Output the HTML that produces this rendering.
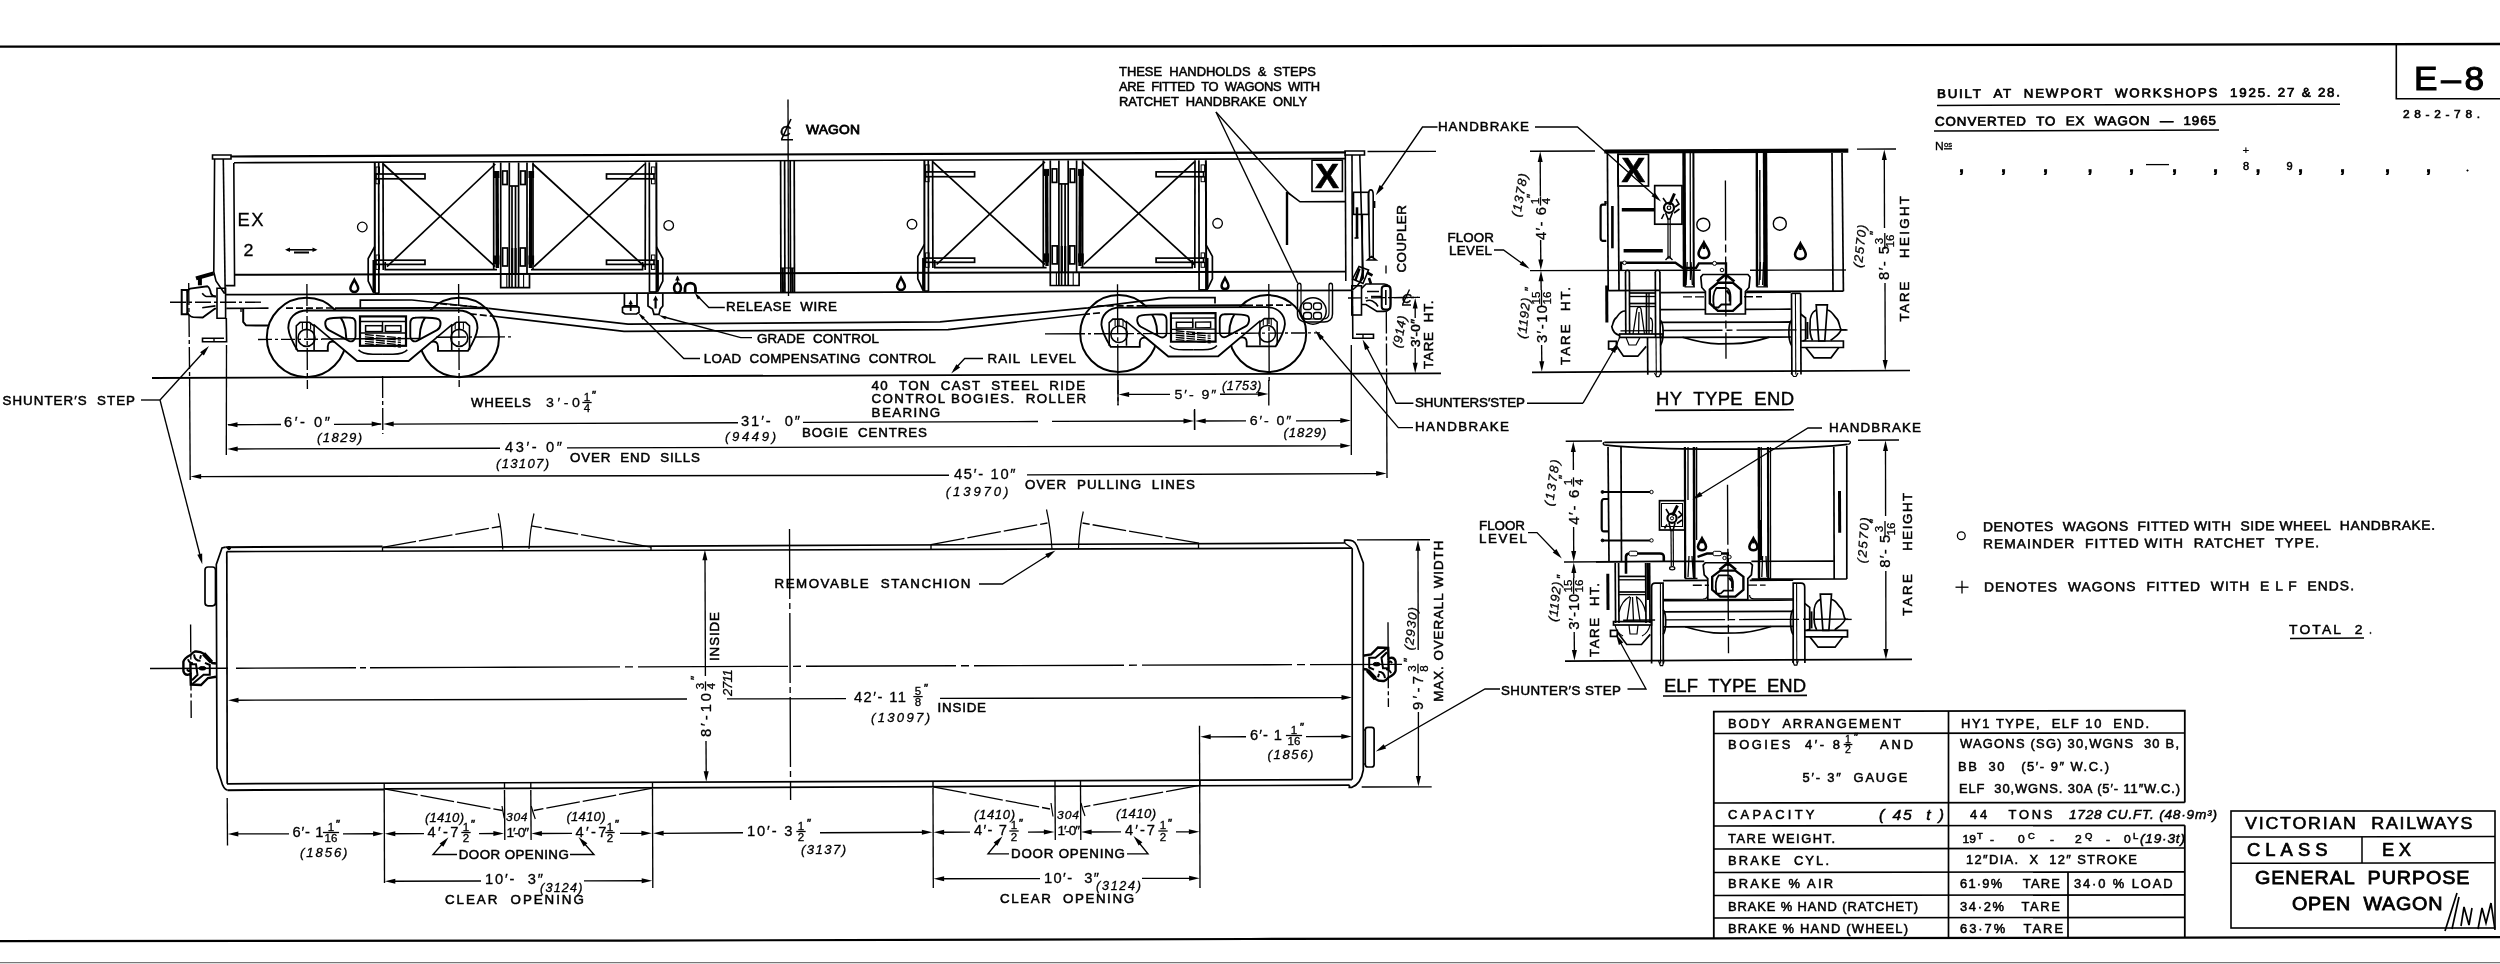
<!DOCTYPE html>
<html><head><meta charset="utf-8"><title>E-8 EX General Purpose Open Wagon</title>
<style>
html,body{margin:0;padding:0;background:#fff;}
body{width:2500px;height:964px;overflow:hidden;}
svg{display:block;filter:grayscale(1);font-family:"Liberation Sans",sans-serif;fill:#000;}
svg text{fill:#000;}
</style></head><body>
<svg width="2500" height="964" viewBox="0 0 2500 964">
<rect x="0" y="0" width="2500" height="964" fill="#fff"/>
<line x1="0" y1="46.6" x2="1250" y2="46.4" stroke="#000" stroke-width="2.4"/>
<line x1="1250" y1="46.4" x2="2500" y2="44" stroke="#000" stroke-width="2.4"/>
<polyline points="0,941.2 625,940.6 1250,939 1715,938.3 2185,937.6 2500,937.2" fill="none" stroke="#000" stroke-width="2.2"/>
<line x1="0" y1="962.6" x2="2500" y2="962.6" stroke="#777" stroke-width="1.4"/>
<polyline points="2396.3,45 2396.3,98.8 2500,98.8" fill="none" stroke="#000" stroke-width="1.6"/>
<text font-size="33.5" textLength="66.67" lengthAdjust="spacing" stroke="#000" stroke-width="1.1" transform="translate(2414 90.2) scale(1.05 1)">E–8</text>
<text font-size="11.3" textLength="73.33" lengthAdjust="spacing" stroke="#000" stroke-width="0.6" transform="translate(2403 117.6) scale(1.05 1)">28-2-78.</text>
<text font-size="12.7" textLength="383.81" lengthAdjust="spacing" stroke="#000" stroke-width="0.7" transform="translate(1937 98) rotate(-0.2) scale(1.05 1)">BUILT  AT  NEWPORT  WORKSHOPS  1925. 27 &amp; 28.</text>
<line x1="1937" y1="105.4" x2="2340" y2="104.2" stroke="#000" stroke-width="1.5"/>
<text font-size="12.7" textLength="267.62" lengthAdjust="spacing" stroke="#000" stroke-width="0.7" transform="translate(1935 125.8) rotate(-0.2) scale(1.05 1)">CONVERTED  TO  EX  WAGON  —  1965</text>
<line x1="1934" y1="131" x2="2219" y2="130" stroke="#000" stroke-width="1.5"/>
<text font-size="11.5" stroke="#000" stroke-width="0.3" transform="translate(1935 149.5) scale(1.05 1)">N</text>
<text font-size="7.5" stroke="#000" stroke-width="0.3" transform="translate(1944 146.5) scale(1.05 1)">os</text>
<line x1="1944" y1="148.8" x2="1952" y2="148.8" stroke="#000" stroke-width="1.35"/>
<text font-size="14" font-weight="bold" stroke="#000" stroke-width="0.9" transform="translate(1959.5 172) scale(1.05 1)">,</text>
<text font-size="14" font-weight="bold" stroke="#000" stroke-width="0.9" transform="translate(2001.5 172) scale(1.05 1)">,</text>
<text font-size="14" font-weight="bold" stroke="#000" stroke-width="0.9" transform="translate(2043.5 172) scale(1.05 1)">,</text>
<text font-size="14" font-weight="bold" stroke="#000" stroke-width="0.9" transform="translate(2088 172) scale(1.05 1)">,</text>
<text font-size="14" font-weight="bold" stroke="#000" stroke-width="0.9" transform="translate(2129.5 172) scale(1.05 1)">,</text>
<text font-size="14" font-weight="bold" stroke="#000" stroke-width="0.9" transform="translate(2172.5 172) scale(1.05 1)">,</text>
<text font-size="14" font-weight="bold" stroke="#000" stroke-width="0.9" transform="translate(2213.5 172) scale(1.05 1)">,</text>
<text font-size="14" font-weight="bold" stroke="#000" stroke-width="0.9" transform="translate(2256 172) scale(1.05 1)">,</text>
<text font-size="14" font-weight="bold" stroke="#000" stroke-width="0.9" transform="translate(2298.5 172) scale(1.05 1)">,</text>
<text font-size="14" font-weight="bold" stroke="#000" stroke-width="0.9" transform="translate(2340.5 172) scale(1.05 1)">,</text>
<text font-size="14" font-weight="bold" stroke="#000" stroke-width="0.9" transform="translate(2385.5 172) scale(1.05 1)">,</text>
<text font-size="14" font-weight="bold" stroke="#000" stroke-width="0.9" transform="translate(2426.5 172) scale(1.05 1)">,</text>
<circle cx="2467.5" cy="170.5" r="0.8" fill="#000" stroke="#000" stroke-width="0.5"/>
<line x1="2146" y1="164.6" x2="2169" y2="164.6" stroke="#000" stroke-width="1.3"/>
<text font-size="11" text-anchor="middle" stroke="#000" stroke-width="0.2" transform="translate(2246 154.3) scale(1.05 1)">+</text>
<text font-size="10.5" text-anchor="middle" stroke="#000" stroke-width="0.5" transform="translate(2246 169.6) scale(1.05 1)">8</text>
<text font-size="10.5" text-anchor="middle" stroke="#000" stroke-width="0.5" transform="translate(2289.5 169.6) scale(1.05 1)">9</text>
<circle cx="1961.3" cy="535.8" r="3.9" fill="none" stroke="#000" stroke-width="1.3"/>
<text font-size="13.2" textLength="430.48" lengthAdjust="spacing" stroke="#000" stroke-width="0.5" transform="translate(1983 531.3) rotate(-0.2) scale(1.05 1)">DENOTES  WAGONS  FITTED WITH  SIDE WHEEL  HANDBRAKE.</text>
<text font-size="13.2" textLength="320" lengthAdjust="spacing" stroke="#000" stroke-width="0.5" transform="translate(1983 548.3) rotate(-0.2) scale(1.05 1)">REMAINDER  FITTED WITH  RATCHET  TYPE.</text>
<line x1="1955.5" y1="587.2" x2="1968.5" y2="587.2" stroke="#000" stroke-width="1.3"/>
<line x1="1962" y1="580.8" x2="1962" y2="593.4" stroke="#000" stroke-width="1.3"/>
<text font-size="13.2" textLength="352.38" lengthAdjust="spacing" stroke="#000" stroke-width="0.5" transform="translate(1984 591.6) rotate(-0.2) scale(1.05 1)">DENOTES  WAGONS  FITTED  WITH  E L F  ENDS.</text>
<text font-size="13.2" textLength="70" lengthAdjust="spacing" stroke="#000" stroke-width="0.5" transform="translate(2289 633.8) scale(1.05 1)">TOTAL  2</text>
<line x1="2290" y1="638.4" x2="2364" y2="638" stroke="#000" stroke-width="1.5"/>
<circle cx="2370.5" cy="633" r="0.7" fill="#000" stroke="#000" stroke-width="0.5"/>
<polyline points="1713.8,938.4 1713.8,711.6 2184.8,710.6 2184.8,802.4" fill="none" stroke="#000" stroke-width="1.8"/>
<line x1="2184.8" y1="825.3" x2="2184.8" y2="938" stroke="#000" stroke-width="1.8"/>
<line x1="1713.8" y1="733.5" x2="2184.8" y2="733" stroke="#000" stroke-width="1.7"/>
<line x1="1713.8" y1="803" x2="2184.8" y2="802.4" stroke="#000" stroke-width="1.7"/>
<line x1="1713.8" y1="826" x2="2184.8" y2="825.3" stroke="#000" stroke-width="1.7"/>
<line x1="1713.8" y1="849" x2="2184.8" y2="848" stroke="#000" stroke-width="1.7"/>
<line x1="1713.8" y1="872.5" x2="2184.8" y2="871.8" stroke="#000" stroke-width="1.7"/>
<line x1="1713.8" y1="895.5" x2="2184.8" y2="894.8" stroke="#000" stroke-width="1.7"/>
<line x1="1713.8" y1="918" x2="2184.8" y2="917.3" stroke="#000" stroke-width="1.7"/>
<line x1="1948.5" y1="711" x2="1948.5" y2="938" stroke="#000" stroke-width="1.7"/>
<line x1="2068" y1="872" x2="2068" y2="938" stroke="#000" stroke-width="1.7"/>
<text font-size="12.3" textLength="164.76" lengthAdjust="spacing" stroke="#000" stroke-width="0.5" transform="translate(1728 728) scale(1.05 1)">BODY  ARRANGEMENT</text>
<text font-size="12.3" textLength="106.67" lengthAdjust="spacing" stroke="#000" stroke-width="0.5" transform="translate(1728 749) scale(1.05 1)">BOGIES  4′- 8</text>
<text font-size="10" text-anchor="middle" stroke="#000" stroke-width="0.3" transform="translate(1848 742.9) scale(1.05 1)">1</text>
<line x1="1843.65" y1="744.5" x2="1852.35" y2="744.5" stroke="#000" stroke-width="1.3"/>
<text font-size="10" text-anchor="middle" stroke="#000" stroke-width="0.3" transform="translate(1848 753.3) scale(1.05 1)">2</text>
<text font-size="11" stroke="#000" stroke-width="0.5" transform="translate(1854 741) scale(1.05 1)">″</text>
<text font-size="12.3" textLength="31.43" lengthAdjust="spacing" stroke="#000" stroke-width="0.5" transform="translate(1880 749) scale(1.05 1)">AND</text>
<text font-size="12.3" textLength="100" lengthAdjust="spacing" stroke="#000" stroke-width="0.5" transform="translate(1802.5 782) scale(1.05 1)">5′- 3″  GAUGE</text>
<text font-size="12.3" textLength="82.38" lengthAdjust="spacing" stroke="#000" stroke-width="0.5" transform="translate(1728 819) scale(1.05 1)">CAPACITY</text>
<text font-size="15" textLength="61.9" lengthAdjust="spacing" font-style="italic" stroke="#000" stroke-width="0.5" transform="translate(1879 819.5) scale(1.05 1)">( 45  t )</text>
<text font-size="12.3" textLength="101.9" lengthAdjust="spacing" stroke="#000" stroke-width="0.5" transform="translate(1728 843) scale(1.05 1)">TARE WEIGHT.</text>
<text font-size="12.3" textLength="96.19" lengthAdjust="spacing" stroke="#000" stroke-width="0.5" transform="translate(1728 865) scale(1.05 1)">BRAKE  CYL.</text>
<text font-size="12.3" textLength="100" lengthAdjust="spacing" stroke="#000" stroke-width="0.5" transform="translate(1728 888) scale(1.05 1)">BRAKE % AIR</text>
<text font-size="12.3" textLength="180.95" lengthAdjust="spacing" stroke="#000" stroke-width="0.5" transform="translate(1728 911) scale(1.05 1)">BRAKE % HAND (RATCHET)</text>
<text font-size="12.3" textLength="171.43" lengthAdjust="spacing" stroke="#000" stroke-width="0.5" transform="translate(1728 932.5) scale(1.05 1)">BRAKE % HAND (WHEEL)</text>
<text font-size="12.3" textLength="179.05" lengthAdjust="spacing" stroke="#000" stroke-width="0.5" transform="translate(1961 728) scale(1.05 1)">HY1 TYPE,  ELF 10  END.</text>
<text font-size="12.3" textLength="208.57" lengthAdjust="spacing" stroke="#000" stroke-width="0.5" transform="translate(1960 748) scale(1.05 1)">WAGONS (SG) 30,WGNS  30 B,</text>
<text font-size="12.3" textLength="143.81" lengthAdjust="spacing" stroke="#000" stroke-width="0.5" transform="translate(1958 770.5) scale(1.05 1)">BB  30   (5′- 9″ W.C.)</text>
<text font-size="12.3" textLength="210.48" lengthAdjust="spacing" stroke="#000" stroke-width="0.5" transform="translate(1959 793) scale(1.05 1)">ELF  30,WGNS. 30A (5′- 11″W.C.)</text>
<text font-size="12.3" textLength="78.57" lengthAdjust="spacing" stroke="#000" stroke-width="0.5" transform="translate(1970 819) scale(1.05 1)">44   TONS</text>
<text font-size="13" textLength="140.95" lengthAdjust="spacing" font-style="italic" stroke="#000" stroke-width="0.5" transform="translate(2069 819) scale(1.05 1)">1728 CU.FT. (48·9m³)</text>
<text font-size="11.5" stroke="#000" stroke-width="0.5" transform="translate(1962.5 842.5) scale(1.05 1)">19</text>
<text font-size="9" stroke="#000" stroke-width="0.5" transform="translate(1977 838.5) scale(1.05 1)">T</text>
<text font-size="11.5" stroke="#000" stroke-width="0.5" transform="translate(1990 842.5) scale(1.05 1)">-</text>
<text font-size="11.5" stroke="#000" stroke-width="0.5" transform="translate(2018 842.5) scale(1.05 1)">0</text>
<text font-size="9" stroke="#000" stroke-width="0.5" transform="translate(2028 838.5) scale(1.05 1)">C</text>
<text font-size="11.5" stroke="#000" stroke-width="0.5" transform="translate(2050 842.5) scale(1.05 1)">-</text>
<text font-size="11.5" stroke="#000" stroke-width="0.5" transform="translate(2075 842.5) scale(1.05 1)">2</text>
<text font-size="9" stroke="#000" stroke-width="0.5" transform="translate(2085 838.5) scale(1.05 1)">Q</text>
<text font-size="11.5" stroke="#000" stroke-width="0.5" transform="translate(2106 842.5) scale(1.05 1)">-</text>
<text font-size="11.5" stroke="#000" stroke-width="0.5" transform="translate(2124 842.5) scale(1.05 1)">0</text>
<text font-size="9" stroke="#000" stroke-width="0.5" transform="translate(2133 838.5) scale(1.05 1)">L</text>
<text font-size="13" textLength="42.86" lengthAdjust="spacing" font-style="italic" stroke="#000" stroke-width="0.5" transform="translate(2140 842.5) scale(1.05 1)">(19·3t)</text>
<text font-size="12.3" textLength="162.86" lengthAdjust="spacing" stroke="#000" stroke-width="0.5" transform="translate(1966 864) scale(1.05 1)">12″DIA.  X  12″ STROKE</text>
<text font-size="12.3" textLength="95.24" lengthAdjust="spacing" stroke="#000" stroke-width="0.5" transform="translate(1960 887.5) scale(1.05 1)">61·9%    TARE</text>
<text font-size="12.3" textLength="93.81" lengthAdjust="spacing" stroke="#000" stroke-width="0.5" transform="translate(2074 887.5) scale(1.05 1)">34·0 % LOAD</text>
<text font-size="12.3" textLength="95.24" lengthAdjust="spacing" stroke="#000" stroke-width="0.5" transform="translate(1960 910.5) scale(1.05 1)">34·2%   TARE</text>
<text font-size="12.3" textLength="98.1" lengthAdjust="spacing" stroke="#000" stroke-width="0.5" transform="translate(1960 932.5) scale(1.05 1)">63·7%   TARE</text>
<rect x="2231" y="811" width="264" height="117" fill="none" stroke="#000" stroke-width="1.6"/>
<line x1="2231" y1="837" x2="2495" y2="836.5" stroke="#000" stroke-width="1.5"/>
<line x1="2231" y1="863.3" x2="2495" y2="862.8" stroke="#000" stroke-width="1.5"/>
<line x1="2362" y1="837" x2="2362" y2="863" stroke="#000" stroke-width="1.5"/>
<text font-size="17" textLength="216.67" lengthAdjust="spacing" stroke="#000" stroke-width="0.6" transform="translate(2245 828.5) scale(1.05 1)">VICTORIAN  RAILWAYS</text>
<text font-size="17.5" textLength="76.67" lengthAdjust="spacing" stroke="#000" stroke-width="0.7" transform="translate(2247 856) scale(1.05 1)">CLASS</text>
<text font-size="17.5" textLength="27.62" lengthAdjust="spacing" stroke="#000" stroke-width="0.6" transform="translate(2382 856) scale(1.05 1)">EX</text>
<text font-size="18.8" textLength="204.29" lengthAdjust="spacing" stroke="#000" stroke-width="0.8" transform="translate(2255 884.3) scale(1.05 1)">GENERAL  PURPOSE</text>
<text font-size="18.8" textLength="143.33" lengthAdjust="spacing" stroke="#000" stroke-width="0.8" transform="translate(2292 910) scale(1.05 1)">OPEN  WAGON</text>
<path d="M2445,931 L2457,893 M2452,929 L2459,897 M2461,926 L2464,907 L2469,925 L2472,908 M2478,929 L2482,908 L2486,923 L2491,903 L2495,930" fill="none" stroke="#000" stroke-width="1.7"/>
<line x1="231" y1="156.5" x2="1346" y2="152.3" stroke="#000" stroke-width="2.2"/>
<line x1="234" y1="162.7" x2="1346" y2="158.6" stroke="#000" stroke-width="1.6"/>
<line x1="235" y1="274.8" x2="1345" y2="271.6" stroke="#000" stroke-width="1.9"/>
<line x1="226" y1="294.7" x2="1352" y2="290.4" stroke="#000" stroke-width="1.8"/>
<line x1="152" y1="378" x2="1441" y2="373.3" stroke="#000" stroke-width="1.8"/>
<polygon points="212.5,155 231,155 231,159 212.5,159" fill="none" stroke="#000" stroke-width="1.6"/>
<polyline points="214.6,159 213.8,272 216,281 224.5,293.5" fill="none" stroke="#000" stroke-width="1.6"/>
<line x1="223.3" y1="159" x2="225.2" y2="294" stroke="#000" stroke-width="1.6"/>
<polyline points="233.8,163 234.6,285.6 225.4,285.6" fill="none" stroke="#000" stroke-width="1.6"/>
<polygon points="217,288.2 225.6,288.2 225.6,318.3 217,318.3" fill="none" stroke="#000" stroke-width="1.6"/>
<polyline points="226.3,318 226.6,341.8 202.5,341.8 202.5,338.3 224,338.3" fill="none" stroke="#000" stroke-width="1.6"/>
<line x1="214" y1="338.3" x2="214" y2="341.8" stroke="#000" stroke-width="1.35"/>
<polygon points="181.7,290 187.3,290 187.3,314.3 181.7,314.3" fill="none" stroke="#000" stroke-width="2"/>
<path d="M187.3,292.5 C188,289.8 189,288.9 190.2,288.6 L207.3,286.3 C209.8,287.5 210.5,291 211,293.7 C212,296 213.5,296.5 216,296.5 M187.3,312 C189,316 191,317 193.3,317.2 L202.7,317.5 L214.8,308.7 L216.2,308.7" fill="none" stroke="#000" stroke-width="1.8"/>
<path d="M202.2,293.3 C204,295.5 205,296.5 206.4,296.5 L215.7,296.5 M202.2,307.7 L215.5,305.9" fill="none" stroke="#000" stroke-width="1.6"/>
<line x1="196" y1="278.4" x2="213.6" y2="273.3" stroke="#000" stroke-width="4"/>
<line x1="199.9" y1="278" x2="199.9" y2="285.3" stroke="#000" stroke-width="4"/>
<line x1="170" y1="302.2" x2="264" y2="302.2" stroke="#000" stroke-width="1.35" stroke-dasharray="16 3 3 3"/>
<line x1="188.7" y1="283" x2="189.6" y2="378" stroke="#000" stroke-width="1.35" stroke-dasharray="22 3 4 3"/>
<line x1="189.6" y1="378" x2="190.2" y2="480" stroke="#000" stroke-width="1.35"/>
<line x1="226.5" y1="345" x2="226.3" y2="455" stroke="#000" stroke-width="1.35"/>
<polygon points="1345,151 1364.5,151 1364.5,155 1345,155" fill="none" stroke="#000" stroke-width="1.6"/>
<line x1="1345.3" y1="155" x2="1345.8" y2="281" stroke="#000" stroke-width="1.6"/>
<line x1="1352" y1="155" x2="1352.4" y2="290" stroke="#000" stroke-width="1.6"/>
<polyline points="1359.8,155 1363.2,278 1357,286 1352.5,290" fill="none" stroke="#000" stroke-width="1.6"/>
<rect x="1312" y="160.2" width="30.4" height="31.2" fill="none" stroke="#000" stroke-width="1.6"/>
<text font-size="35.5" text-anchor="middle" font-weight="bold" stroke="#000" stroke-width="0.6" transform="translate(1327.2 188.2)">X</text>
<line x1="1287" y1="192" x2="1287" y2="245" stroke="#000" stroke-width="2.4"/>
<polyline points="1287,192 1300,201.8 1345,201.6" fill="none" stroke="#000" stroke-width="1.6"/>
<line x1="1216" y1="112" x2="1290" y2="194.5" stroke="#000" stroke-width="1.35"/>
<line x1="1216" y1="112" x2="1297.6" y2="283" stroke="#000" stroke-width="1.35"/>
<rect x="1353.5" y="192.3" width="15" height="22.1" fill="none" stroke="#000" stroke-width="1.6"/>
<path d="M1368.5,195 C1368.5,188.2 1373.2,188.2 1373.2,195 L1373.2,257.6 M1368.5,195 L1369.6,257.6 M1367.5,260 L1376,260 L1371.5,256.5 Z" fill="none" stroke="#000" stroke-width="1.6"/>
<line x1="1374.2" y1="201" x2="1374.2" y2="208" stroke="#000" stroke-width="2.4"/>
<line x1="1357" y1="207.3" x2="1357" y2="238" stroke="#000" stroke-width="2.6"/>
<line x1="1362.3" y1="214.4" x2="1362.3" y2="278.8" stroke="#000" stroke-width="1.6"/>
<line x1="1354.5" y1="238" x2="1358.5" y2="238" stroke="#000" stroke-width="1.6"/>
<path d="M1352.6,279 L1359,266.5 L1368.5,270 L1363,283.5 Z" fill="none" stroke="#000" stroke-width="1.6"/>
<line x1="1359.5" y1="268.5" x2="1355.5" y2="280" stroke="#000" stroke-width="2.4"/>
<line x1="1363.5" y1="270" x2="1360" y2="282" stroke="#000" stroke-width="1.8"/>
<path d="M1367,272.5 L1372.5,275.5 M1369,278 L1371,284" fill="none" stroke="#000" stroke-width="2.6"/>
<rect x="1351.8" y="285.8" width="9.7" height="29.2" fill="none" stroke="#000" stroke-width="1.6"/>
<path d="M1361.5,288.5 L1366,284 L1384,284 C1389,284.5 1390.6,287 1390.6,291 L1390.6,304 C1390.6,309 1388,311.4 1384,311.4 L1377,311.4 L1366,304.5 L1361.5,304.5" fill="none" stroke="#000" stroke-width="1.7"/>
<rect x="1381.7" y="286" width="8.8" height="23.6" fill="none" stroke="#000" stroke-width="2" rx="3"/>
<path d="M1367,291.5 L1379,291.5 M1371,296.5 L1381,296.5 M1366,301 C1370,299 1375,301 1378,306.5 M1385.8,290 L1385.8,305" fill="none" stroke="#000" stroke-width="1.6"/>
<line x1="1348" y1="298" x2="1420" y2="297.4" stroke="#000" stroke-width="1.35" stroke-dasharray="14 3 3 3"/>
<polyline points="1352.6,306 1352.8,338.3 1373.5,338.3 1373.5,334.3 1356,334.3" fill="none" stroke="#000" stroke-width="1.6"/>
<line x1="1363" y1="334.3" x2="1363" y2="338.3" stroke="#000" stroke-width="1.35"/>
<polyline points="1352.5,290.5 1352.5,306" fill="none" stroke="#000" stroke-width="1.6"/>
<line x1="1351.3" y1="345" x2="1351.3" y2="455" stroke="#000" stroke-width="1.35"/>
<line x1="1386" y1="265.5" x2="1386" y2="273.5" stroke="#000" stroke-width="1.35"/>
<line x1="1386.3" y1="311.5" x2="1386.6" y2="374" stroke="#000" stroke-width="1.35" stroke-dasharray="22 3 4 3"/>
<line x1="1386.6" y1="374" x2="1387" y2="478" stroke="#000" stroke-width="1.35"/>
<line x1="1367.5" y1="151.5" x2="1436" y2="151.3" stroke="#000" stroke-width="1.35"/>
<g transform="translate(0 0)">
<line x1="374.8" y1="162.3" x2="374.8" y2="293.2" stroke="#000" stroke-width="2"/>
<line x1="378.7" y1="162.3" x2="378.9" y2="293.2" stroke="#000" stroke-width="1.7"/>
<line x1="383" y1="162.3" x2="383.3" y2="270" stroke="#000" stroke-width="1.7"/>
<line x1="374.8" y1="293.2" x2="379" y2="293.2" stroke="#000" stroke-width="1.7"/>
<path d="M374.8,246.5 L368.2,258.5 L368.2,281 L373.8,293.2" fill="none" stroke="#000" stroke-width="1.7"/>
<line x1="374" y1="260" x2="374" y2="292" stroke="#000" stroke-width="3"/>
<rect x="376" y="174" width="49" height="4.8" fill="none" stroke="#000" stroke-width="1.7"/>
<rect x="376" y="260.2" width="49" height="4.2" fill="none" stroke="#000" stroke-width="1.7"/>
<rect x="376" y="167" width="3.5" height="7" fill="none" stroke="#000" stroke-width="1"/>
<rect x="376" y="178.8" width="3.5" height="5" fill="none" stroke="#000" stroke-width="1"/>
<rect x="376" y="255" width="3.5" height="5.2" fill="none" stroke="#000" stroke-width="1"/>
<rect x="376" y="264.4" width="3.5" height="5" fill="none" stroke="#000" stroke-width="1"/>
<line x1="383.3" y1="164" x2="495.3" y2="266.6" stroke="#000" stroke-width="1.7"/>
<line x1="495.3" y1="164" x2="387" y2="266.6" stroke="#000" stroke-width="1.7"/>
<polyline points="385.2,262 385.2,269.7 497,269.7" fill="none" stroke="#000" stroke-width="1.7"/>
<line x1="493.7" y1="162.5" x2="493.7" y2="270" stroke="#000" stroke-width="1.7"/>
<line x1="497" y1="174" x2="497.4" y2="268" stroke="#000" stroke-width="3.4"/>
<line x1="500.7" y1="162.5" x2="500.7" y2="274" stroke="#000" stroke-width="1.7"/>
<line x1="527" y1="162.5" x2="527" y2="274" stroke="#000" stroke-width="1.7"/>
<line x1="530.8" y1="174" x2="530.4" y2="268" stroke="#000" stroke-width="3.4"/>
<line x1="533" y1="162.5" x2="533" y2="270" stroke="#000" stroke-width="1.7"/>
<line x1="509.3" y1="162.5" x2="509.3" y2="287.6" stroke="#000" stroke-width="1.7"/>
<line x1="512" y1="186" x2="512" y2="287.6" stroke="#000" stroke-width="1.7"/>
<line x1="515.5" y1="186" x2="515.5" y2="287.6" stroke="#000" stroke-width="1.7"/>
<line x1="518.6" y1="162.5" x2="518.6" y2="287.6" stroke="#000" stroke-width="1.7"/>
<line x1="509.3" y1="186" x2="518.6" y2="186" stroke="#000" stroke-width="1.7"/>
<rect x="502.6" y="171" width="4.6" height="13.5" fill="none" stroke="#000" stroke-width="1.7"/>
<rect x="520.6" y="171" width="4.6" height="13.5" fill="none" stroke="#000" stroke-width="1.7"/>
<rect x="502.6" y="248" width="5" height="18" fill="none" stroke="#000" stroke-width="1.7"/>
<rect x="520.2" y="248" width="5" height="18" fill="none" stroke="#000" stroke-width="1.7"/>
<rect x="494.3" y="171.5" width="4.6" height="6" fill="#000" stroke="#000" stroke-width="1"/>
<rect x="529" y="171.5" width="4.6" height="6" fill="#000" stroke="#000" stroke-width="1"/>
<rect x="494.3" y="256" width="4.6" height="8" fill="#000" stroke="#000" stroke-width="1"/>
<rect x="529" y="256" width="4.6" height="8" fill="#000" stroke="#000" stroke-width="1"/>
<line x1="512.2" y1="248" x2="512.2" y2="274" stroke="#000" stroke-width="2.2"/>
<line x1="515.6" y1="248" x2="515.6" y2="274" stroke="#000" stroke-width="2.2"/>
<polyline points="500.7,274.4 500.7,287.6 529.5,287.6 529.5,274.4" fill="none" stroke="#000" stroke-width="1.7"/>
<line x1="506.8" y1="274.4" x2="506.8" y2="287.6" stroke="#000" stroke-width="1.1"/>
<line x1="523.6" y1="274.4" x2="523.6" y2="287.6" stroke="#000" stroke-width="1.1"/>
<line x1="532.8" y1="164" x2="644.6" y2="266.6" stroke="#000" stroke-width="1.7"/>
<line x1="644.8" y1="164" x2="534" y2="266.6" stroke="#000" stroke-width="1.7"/>
<polyline points="531,269.7 642.6,269.7 642.6,262" fill="none" stroke="#000" stroke-width="1.7"/>
<line x1="645.4" y1="162.3" x2="645.2" y2="270" stroke="#000" stroke-width="1.7"/>
<line x1="649.3" y1="162.3" x2="649.5" y2="292" stroke="#000" stroke-width="1.7"/>
<line x1="656.3" y1="162.3" x2="656.6" y2="292" stroke="#000" stroke-width="2"/>
<line x1="649.5" y1="292" x2="656.6" y2="292" stroke="#000" stroke-width="1.7"/>
<path d="M656.5,247 L662.8,258.5 L662.8,281 L657.5,292" fill="none" stroke="#000" stroke-width="1.7"/>
<line x1="657.4" y1="260" x2="657.4" y2="291" stroke="#000" stroke-width="3"/>
<rect x="606.5" y="174" width="47.5" height="4.8" fill="none" stroke="#000" stroke-width="1.7"/>
<rect x="606.5" y="260.2" width="47.5" height="4.2" fill="none" stroke="#000" stroke-width="1.7"/>
<rect x="651.5" y="167" width="3.5" height="7" fill="none" stroke="#000" stroke-width="1"/>
<rect x="651.5" y="178.8" width="3.5" height="5" fill="none" stroke="#000" stroke-width="1"/>
<rect x="651.5" y="255" width="3.5" height="5.2" fill="none" stroke="#000" stroke-width="1"/>
<rect x="651.5" y="264.4" width="3.5" height="5" fill="none" stroke="#000" stroke-width="1"/>
</g>
<g transform="translate(549.6 -2.1)">
<line x1="374.8" y1="162.3" x2="374.8" y2="293.2" stroke="#000" stroke-width="2"/>
<line x1="378.7" y1="162.3" x2="378.9" y2="293.2" stroke="#000" stroke-width="1.7"/>
<line x1="383" y1="162.3" x2="383.3" y2="270" stroke="#000" stroke-width="1.7"/>
<line x1="374.8" y1="293.2" x2="379" y2="293.2" stroke="#000" stroke-width="1.7"/>
<path d="M374.8,246.5 L368.2,258.5 L368.2,281 L373.8,293.2" fill="none" stroke="#000" stroke-width="1.7"/>
<line x1="374" y1="260" x2="374" y2="292" stroke="#000" stroke-width="3"/>
<rect x="376" y="174" width="49" height="4.8" fill="none" stroke="#000" stroke-width="1.7"/>
<rect x="376" y="260.2" width="49" height="4.2" fill="none" stroke="#000" stroke-width="1.7"/>
<rect x="376" y="167" width="3.5" height="7" fill="none" stroke="#000" stroke-width="1"/>
<rect x="376" y="178.8" width="3.5" height="5" fill="none" stroke="#000" stroke-width="1"/>
<rect x="376" y="255" width="3.5" height="5.2" fill="none" stroke="#000" stroke-width="1"/>
<rect x="376" y="264.4" width="3.5" height="5" fill="none" stroke="#000" stroke-width="1"/>
<line x1="383.3" y1="164" x2="495.3" y2="266.6" stroke="#000" stroke-width="1.7"/>
<line x1="495.3" y1="164" x2="387" y2="266.6" stroke="#000" stroke-width="1.7"/>
<polyline points="385.2,262 385.2,269.7 497,269.7" fill="none" stroke="#000" stroke-width="1.7"/>
<line x1="493.7" y1="162.5" x2="493.7" y2="270" stroke="#000" stroke-width="1.7"/>
<line x1="497" y1="174" x2="497.4" y2="268" stroke="#000" stroke-width="3.4"/>
<line x1="500.7" y1="162.5" x2="500.7" y2="274" stroke="#000" stroke-width="1.7"/>
<line x1="527" y1="162.5" x2="527" y2="274" stroke="#000" stroke-width="1.7"/>
<line x1="530.8" y1="174" x2="530.4" y2="268" stroke="#000" stroke-width="3.4"/>
<line x1="533" y1="162.5" x2="533" y2="270" stroke="#000" stroke-width="1.7"/>
<line x1="509.3" y1="162.5" x2="509.3" y2="287.6" stroke="#000" stroke-width="1.7"/>
<line x1="512" y1="186" x2="512" y2="287.6" stroke="#000" stroke-width="1.7"/>
<line x1="515.5" y1="186" x2="515.5" y2="287.6" stroke="#000" stroke-width="1.7"/>
<line x1="518.6" y1="162.5" x2="518.6" y2="287.6" stroke="#000" stroke-width="1.7"/>
<line x1="509.3" y1="186" x2="518.6" y2="186" stroke="#000" stroke-width="1.7"/>
<rect x="502.6" y="171" width="4.6" height="13.5" fill="none" stroke="#000" stroke-width="1.7"/>
<rect x="520.6" y="171" width="4.6" height="13.5" fill="none" stroke="#000" stroke-width="1.7"/>
<rect x="502.6" y="248" width="5" height="18" fill="none" stroke="#000" stroke-width="1.7"/>
<rect x="520.2" y="248" width="5" height="18" fill="none" stroke="#000" stroke-width="1.7"/>
<rect x="494.3" y="171.5" width="4.6" height="6" fill="#000" stroke="#000" stroke-width="1"/>
<rect x="529" y="171.5" width="4.6" height="6" fill="#000" stroke="#000" stroke-width="1"/>
<rect x="494.3" y="256" width="4.6" height="8" fill="#000" stroke="#000" stroke-width="1"/>
<rect x="529" y="256" width="4.6" height="8" fill="#000" stroke="#000" stroke-width="1"/>
<line x1="512.2" y1="248" x2="512.2" y2="274" stroke="#000" stroke-width="2.2"/>
<line x1="515.6" y1="248" x2="515.6" y2="274" stroke="#000" stroke-width="2.2"/>
<polyline points="500.7,274.4 500.7,287.6 529.5,287.6 529.5,274.4" fill="none" stroke="#000" stroke-width="1.7"/>
<line x1="506.8" y1="274.4" x2="506.8" y2="287.6" stroke="#000" stroke-width="1.1"/>
<line x1="523.6" y1="274.4" x2="523.6" y2="287.6" stroke="#000" stroke-width="1.1"/>
<line x1="532.8" y1="164" x2="644.6" y2="266.6" stroke="#000" stroke-width="1.7"/>
<line x1="644.8" y1="164" x2="534" y2="266.6" stroke="#000" stroke-width="1.7"/>
<polyline points="531,269.7 642.6,269.7 642.6,262" fill="none" stroke="#000" stroke-width="1.7"/>
<line x1="645.4" y1="162.3" x2="645.2" y2="270" stroke="#000" stroke-width="1.7"/>
<line x1="649.3" y1="162.3" x2="649.5" y2="292" stroke="#000" stroke-width="1.7"/>
<line x1="656.3" y1="162.3" x2="656.6" y2="292" stroke="#000" stroke-width="2"/>
<line x1="649.5" y1="292" x2="656.6" y2="292" stroke="#000" stroke-width="1.7"/>
<path d="M656.5,247 L662.8,258.5 L662.8,281 L657.5,292" fill="none" stroke="#000" stroke-width="1.7"/>
<line x1="657.4" y1="260" x2="657.4" y2="291" stroke="#000" stroke-width="3"/>
<rect x="606.5" y="174" width="47.5" height="4.8" fill="none" stroke="#000" stroke-width="1.7"/>
<rect x="606.5" y="260.2" width="47.5" height="4.2" fill="none" stroke="#000" stroke-width="1.7"/>
<rect x="651.5" y="167" width="3.5" height="7" fill="none" stroke="#000" stroke-width="1"/>
<rect x="651.5" y="178.8" width="3.5" height="5" fill="none" stroke="#000" stroke-width="1"/>
<rect x="651.5" y="255" width="3.5" height="5.2" fill="none" stroke="#000" stroke-width="1"/>
<rect x="651.5" y="264.4" width="3.5" height="5" fill="none" stroke="#000" stroke-width="1"/>
</g>
<line x1="780.6" y1="160.5" x2="780.9" y2="292.3" stroke="#000" stroke-width="1.7"/>
<line x1="784.6" y1="160.5" x2="784.9" y2="292.3" stroke="#000" stroke-width="1.7"/>
<line x1="790.2" y1="160.5" x2="790.5" y2="292.3" stroke="#000" stroke-width="1.7"/>
<line x1="794.2" y1="160.5" x2="794.5" y2="292.3" stroke="#000" stroke-width="1.7"/>
<line x1="782.6" y1="268" x2="782.8" y2="292" stroke="#000" stroke-width="2.4"/>
<line x1="792.3" y1="268" x2="792.5" y2="292" stroke="#000" stroke-width="2.4"/>
<line x1="780.6" y1="268" x2="794.2" y2="268" stroke="#000" stroke-width="1.1"/>
<line x1="788" y1="99.5" x2="788.5" y2="296" stroke="#000" stroke-width="1.35"/>
<text font-size="15" font-style="italic" stroke="#000" stroke-width="0.5" transform="translate(780 136)">C</text>
<path d="M791,119 L781.5,139.5 M781,139.8 L793,139.8" fill="none" stroke="#000" stroke-width="1.6"/>
<text font-size="13.2" textLength="51.43" lengthAdjust="spacing" stroke="#000" stroke-width="0.8" transform="translate(806 134) scale(1.05 1)">WAGON</text>
<circle cx="362.3" cy="227" r="4.8" fill="none" stroke="#000" stroke-width="1.3"/>
<circle cx="668.7" cy="225.4" r="4.8" fill="none" stroke="#000" stroke-width="1.3"/>
<circle cx="912" cy="224.2" r="4.8" fill="none" stroke="#000" stroke-width="1.3"/>
<circle cx="1217.6" cy="223.3" r="4.8" fill="none" stroke="#000" stroke-width="1.3"/>
<text font-size="17.5" textLength="24.76" lengthAdjust="spacing" stroke="#000" stroke-width="0.3" transform="translate(237.5 226.2) scale(1.05 1)">EX</text>
<text font-size="17" stroke="#000" stroke-width="0.3" transform="translate(243.5 255.5) scale(1.05 1)">2</text>
<line x1="287" y1="249.8" x2="315.5" y2="249.8" stroke="#000" stroke-width="1.6"/>
<polygon points="285,249.8 290,247.6 290,252" fill="#000"/>
<polygon points="317.5,249.8 312.5,252 312.5,247.6" fill="#000"/>
<line x1="294" y1="252.5" x2="309" y2="252.5" stroke="#000" stroke-width="2"/>
<path d="M354.3,279.7 C352.6,283.1 350.39,285.65 350.39,288.37 C350.39,293.3 358.21,293.3 358.21,288.37 C358.21,285.65 356,283.1 354.3,279.7 Z" fill="none" stroke="#000" stroke-width="2.5"/>
<path d="M901,277.7 C899.3,281.1 897.09,283.65 897.09,286.37 C897.09,291.3 904.91,291.3 904.91,286.37 C904.91,283.65 902.7,281.1 901,277.7 Z" fill="none" stroke="#000" stroke-width="2.5"/>
<path d="M1225,278 C1223.5,281 1221.55,283.25 1221.55,285.65 C1221.55,290 1228.45,290 1228.45,285.65 C1228.45,283.25 1226.5,281 1225,278 Z" fill="none" stroke="#000" stroke-width="2.5"/>
<path d="M677.5,276.5 L677.5,284" fill="none" stroke="#000" stroke-width="1.4"/>
<polygon points="677.5,275.5 679.9,280.5 675.1,280.5" fill="#000"/>
<ellipse cx="677.5" cy="288" rx="3.4" ry="4.8" fill="none" stroke="#000" stroke-width="2.6"/>
<path d="M685,293 L685,288 C685,281.5 695.5,281.5 695.5,288 L695.5,293" fill="none" stroke="#000" stroke-width="2.8"/>
<line x1="226.3" y1="308.3" x2="268.5" y2="308.2" stroke="#000" stroke-width="1.7"/>
<line x1="286" y1="308.1" x2="333" y2="308" stroke="#000" stroke-width="1.7" stroke-dasharray="7 3"/>
<polyline points="243.2,308.3 243.2,322 246,325.3 268,325.6" fill="none" stroke="#000" stroke-width="2"/>
<line x1="241" y1="308.3" x2="241" y2="312" stroke="#000" stroke-width="1.35"/>
<polyline points="360.3,307.8 360.3,300.2 412,300" fill="none" stroke="#000" stroke-width="1.7"/>
<line x1="412" y1="300" x2="488" y2="308.3" stroke="#000" stroke-width="1.35"/>
<line x1="335" y1="308.2" x2="430" y2="307.9" stroke="#000" stroke-width="2"/>
<line x1="430" y1="307.9" x2="488.6" y2="308.4" stroke="#000" stroke-width="1.7"/>
<line x1="440" y1="303.7" x2="487" y2="308" stroke="#000" stroke-width="1.7" stroke-dasharray="7 3"/>
<line x1="440" y1="310.7" x2="496" y2="316.5" stroke="#000" stroke-width="1.7" stroke-dasharray="7 3"/>
<polyline points="488.6,308.4 628,324.2 940,321.9 1088,307.8 1168.8,297.7 1215,297.5 1215,303.6" fill="none" stroke="#000" stroke-width="1.7"/>
<polyline points="496,316.5 624,331.3 948,329.6 1083,314.5" fill="none" stroke="#000" stroke-width="1.7"/>
<line x1="1096.6" y1="306" x2="1142" y2="305.8" stroke="#000" stroke-width="1.7" stroke-dasharray="7 3"/>
<line x1="1083" y1="314.5" x2="1102" y2="312.6" stroke="#000" stroke-width="1.7" stroke-dasharray="7 3"/>
<line x1="1142" y1="305.7" x2="1246" y2="305.3" stroke="#000" stroke-width="2"/>
<line x1="1246" y1="305.3" x2="1291.5" y2="305.1" stroke="#000" stroke-width="1.7" stroke-dasharray="7 3"/>
<polyline points="624.4,293.5 624.4,307 637,307 637,293.4" fill="none" stroke="#000" stroke-width="1.7"/>
<polygon points="622.5,307.5 625,305.8 636.5,305.8 639,307.5 639,312.3 636.5,314 625,314 622.5,312.3" fill="none" stroke="#000" stroke-width="1.7"/>
<line x1="630.7" y1="303" x2="630.7" y2="311" stroke="#000" stroke-width="1.8"/>
<polygon points="630.7,299.8 632.9,304.3 628.5,304.3" fill="#000"/>
<polyline points="648,293.4 648,306 652.5,309 654,314.3 659,314.3 660.3,309 662.8,306 662.8,293.3" fill="none" stroke="#000" stroke-width="1.7"/>
<line x1="655.6" y1="299" x2="655.6" y2="308.5" stroke="#000" stroke-width="2.2"/>
<polygon points="655.6,295.5 658.2,300.5 653,300.5" fill="#000"/>
<polyline points="724.8,307.5 708.8,307.5 696.5,295" fill="none" stroke="#000" stroke-width="1.35"/>
<polygon points="694.8,292.9 700.5,297.3 697.85,299.43" fill="#000"/>
<text font-size="12.7" textLength="105.71" lengthAdjust="spacing" stroke="#000" stroke-width="0.5" transform="translate(726 311) scale(1.05 1)">RELEASE  WIRE</text>
<polyline points="752,337.6 740.8,337.6 664,317" fill="none" stroke="#000" stroke-width="1.35"/>
<polygon points="658.5,315 666.56,316.39 665.3,319.55" fill="#000"/>
<text font-size="12.7" textLength="116.19" lengthAdjust="spacing" stroke="#000" stroke-width="0.5" transform="translate(757 342.8) scale(1.05 1)">GRADE  CONTROL</text>
<polyline points="700,358.5 683.8,358.5 641,316" fill="none" stroke="#000" stroke-width="1.35"/>
<polygon points="638,312.8 644.86,317.25 642.45,319.66" fill="#000"/>
<text font-size="12.7" textLength="220.95" lengthAdjust="spacing" stroke="#000" stroke-width="0.5" transform="translate(703.8 363) scale(1.05 1)">LOAD  COMPENSATING  CONTROL</text>
<polyline points="983,358.5 964.7,358.5 954,370" fill="none" stroke="#000" stroke-width="1.35"/>
<polygon points="951.2,373.6 956.41,364.15 960.11,367.51" fill="#000"/>
<text font-size="12.7" textLength="84.29" lengthAdjust="spacing" stroke="#000" stroke-width="0.5" transform="translate(987.5 363) scale(1.05 1)">RAIL  LEVEL</text>
<circle cx="306.5" cy="337.5" r="39.7" fill="none" stroke="#000" stroke-width="2"/>
<circle cx="459.3" cy="337.5" r="39.7" fill="none" stroke="#000" stroke-width="2"/>
<g transform="translate(382.9 337.5) rotate(0) scale(1)">
<path d="M-75.3,-27 L75.3,-27 C88,-27 94.6,-19 94.6,-9.5 C94,-2.5 90,5.5 85,13.4 L55.1,13.4 L55.1,9 C55,4.5 52,3.4 48.6,4.3 L25.7,23.5 L-25.7,23.5 L-48.6,4.3 C-52,3.4 -55,4.5 -55.1,9 L-55.1,13.4 L-85,13.4 C-90,5.5 -94,-2.5 -94.6,-9.5 C-94.6,-19 -88,-27 -75.3,-27 Z M-56,-18.1 C-50,-20.5 -40,-20 -32,-19.8 C-28,-19.8 -27.4,-17 -27.4,-14 L-27.4,-1 C-27.4,3 -31,4.5 -33.6,3.6 L-54,-7.3 C-58,-9.5 -58.8,-16 -56,-18.1 Z M56,-18.1 C50,-20.5 40,-20 32,-19.8 C28,-19.8 27.4,-17 27.4,-14 L27.4,-1 C27.4,3 31,4.5 33.6,3.6 L54,-7.3 C58,-9.5 58.8,-16 56,-18.1 Z" fill="#fff" fill-rule="evenodd" stroke="#000" stroke-width="1.9"/>
<g transform="scale(1 1)">
<line x1="-69.4" y1="-13.1" x2="-48.6" y2="4.3" stroke="#000" stroke-width="1.6"/>
<polyline points="-86.6,12.4 -86.6,-11.6 -82.8,-15.2 -73.6,-15.2 -68.8,-11.5 -68.8,12.4" fill="none" stroke="#000" stroke-width="1.6"/>
<circle cx="-76.4" cy="0.4" r="8.5" fill="none" stroke="#000" stroke-width="1.6"/>
<line x1="-80.5" y1="-15" x2="-80.5" y2="-8" stroke="#000" stroke-width="1.1"/>
<line x1="-76.4" y1="-15" x2="-76.4" y2="-8.2" stroke="#000" stroke-width="1.1"/>
<line x1="-72.3" y1="-15" x2="-72.3" y2="-8" stroke="#000" stroke-width="1.1"/>
<path d="M-24.4,12.3 Q-21,16.7 -10,16.7 L0,16.7" fill="none" stroke="#000" stroke-width="1.5"/>
</g>
<g transform="scale(-1 1)">
<line x1="-69.4" y1="-13.1" x2="-48.6" y2="4.3" stroke="#000" stroke-width="1.6"/>
<polyline points="-86.6,12.4 -86.6,-11.6 -82.8,-15.2 -73.6,-15.2 -68.8,-11.5 -68.8,12.4" fill="none" stroke="#000" stroke-width="1.6"/>
<circle cx="-76.4" cy="0.4" r="8.5" fill="none" stroke="#000" stroke-width="1.6"/>
<line x1="-80.5" y1="-15" x2="-80.5" y2="-8" stroke="#000" stroke-width="1.1"/>
<line x1="-76.4" y1="-15" x2="-76.4" y2="-8.2" stroke="#000" stroke-width="1.1"/>
<line x1="-72.3" y1="-15" x2="-72.3" y2="-8" stroke="#000" stroke-width="1.1"/>
<path d="M-24.4,12.3 Q-21,16.7 -10,16.7 L0,16.7" fill="none" stroke="#000" stroke-width="1.5"/>
</g>
<rect x="-22.9" y="-21.1" width="46" height="29.4" fill="none" stroke="#000" stroke-width="2.2"/>
<line x1="-22.9" y1="-16" x2="23.1" y2="-16" stroke="#000" stroke-width="1.4"/>
<rect x="-17.3" y="-11.8" width="16.8" height="5.9" fill="none" stroke="#000" stroke-width="1.5"/>
<rect x="2.5" y="-11.8" width="15.5" height="5.9" fill="none" stroke="#000" stroke-width="1.5"/>
<line x1="-0.4" y1="-16" x2="-0.4" y2="-6" stroke="#000" stroke-width="1.4"/>
<line x1="-22.9" y1="-4.5" x2="23.1" y2="-4.5" stroke="#000" stroke-width="1.35"/>
<line x1="-18" y1="-3" x2="18" y2="0.4" stroke="#000" stroke-width="1.35" stroke-dasharray="9 2"/>
<line x1="-18" y1="-0.7" x2="18" y2="2.7" stroke="#000" stroke-width="1.35" stroke-dasharray="9 2"/>
<line x1="-18" y1="1.6" x2="18" y2="5" stroke="#000" stroke-width="1.35" stroke-dasharray="9 2"/>
<line x1="-18" y1="3.9" x2="18" y2="7.3" stroke="#000" stroke-width="1.35" stroke-dasharray="9 2"/>
<line x1="-18" y1="6.2" x2="18" y2="9.6" stroke="#000" stroke-width="1.35" stroke-dasharray="9 2"/>
</g>
<circle cx="1118.71" cy="333.6" r="38.5" fill="none" stroke="#000" stroke-width="2"/>
<circle cx="1267.69" cy="333.6" r="38.5" fill="none" stroke="#000" stroke-width="2"/>
<g transform="translate(1193.2 333.6) rotate(-0.2) scale(0.97)">
<path d="M-75.3,-27 L75.3,-27 C88,-27 94.6,-19 94.6,-9.5 C94,-2.5 90,5.5 85,13.4 L55.1,13.4 L55.1,9 C55,4.5 52,3.4 48.6,4.3 L25.7,23.5 L-25.7,23.5 L-48.6,4.3 C-52,3.4 -55,4.5 -55.1,9 L-55.1,13.4 L-85,13.4 C-90,5.5 -94,-2.5 -94.6,-9.5 C-94.6,-19 -88,-27 -75.3,-27 Z M-56,-18.1 C-50,-20.5 -40,-20 -32,-19.8 C-28,-19.8 -27.4,-17 -27.4,-14 L-27.4,-1 C-27.4,3 -31,4.5 -33.6,3.6 L-54,-7.3 C-58,-9.5 -58.8,-16 -56,-18.1 Z M56,-18.1 C50,-20.5 40,-20 32,-19.8 C28,-19.8 27.4,-17 27.4,-14 L27.4,-1 C27.4,3 31,4.5 33.6,3.6 L54,-7.3 C58,-9.5 58.8,-16 56,-18.1 Z" fill="#fff" fill-rule="evenodd" stroke="#000" stroke-width="1.9"/>
<g transform="scale(1 1)">
<line x1="-69.4" y1="-13.1" x2="-48.6" y2="4.3" stroke="#000" stroke-width="1.6"/>
<polyline points="-86.6,12.4 -86.6,-11.6 -82.8,-15.2 -73.6,-15.2 -68.8,-11.5 -68.8,12.4" fill="none" stroke="#000" stroke-width="1.6"/>
<circle cx="-76.4" cy="0.4" r="8.5" fill="none" stroke="#000" stroke-width="1.6"/>
<line x1="-80.5" y1="-15" x2="-80.5" y2="-8" stroke="#000" stroke-width="1.1"/>
<line x1="-76.4" y1="-15" x2="-76.4" y2="-8.2" stroke="#000" stroke-width="1.1"/>
<line x1="-72.3" y1="-15" x2="-72.3" y2="-8" stroke="#000" stroke-width="1.1"/>
<path d="M-24.4,12.3 Q-21,16.7 -10,16.7 L0,16.7" fill="none" stroke="#000" stroke-width="1.5"/>
</g>
<g transform="scale(-1 1)">
<line x1="-69.4" y1="-13.1" x2="-48.6" y2="4.3" stroke="#000" stroke-width="1.6"/>
<polyline points="-86.6,12.4 -86.6,-11.6 -82.8,-15.2 -73.6,-15.2 -68.8,-11.5 -68.8,12.4" fill="none" stroke="#000" stroke-width="1.6"/>
<circle cx="-76.4" cy="0.4" r="8.5" fill="none" stroke="#000" stroke-width="1.6"/>
<line x1="-80.5" y1="-15" x2="-80.5" y2="-8" stroke="#000" stroke-width="1.1"/>
<line x1="-76.4" y1="-15" x2="-76.4" y2="-8.2" stroke="#000" stroke-width="1.1"/>
<line x1="-72.3" y1="-15" x2="-72.3" y2="-8" stroke="#000" stroke-width="1.1"/>
<path d="M-24.4,12.3 Q-21,16.7 -10,16.7 L0,16.7" fill="none" stroke="#000" stroke-width="1.5"/>
</g>
<rect x="-22.9" y="-21.1" width="46" height="29.4" fill="none" stroke="#000" stroke-width="2.2"/>
<line x1="-22.9" y1="-16" x2="23.1" y2="-16" stroke="#000" stroke-width="1.4"/>
<rect x="-17.3" y="-11.8" width="16.8" height="5.9" fill="none" stroke="#000" stroke-width="1.5"/>
<rect x="2.5" y="-11.8" width="15.5" height="5.9" fill="none" stroke="#000" stroke-width="1.5"/>
<line x1="-0.4" y1="-16" x2="-0.4" y2="-6" stroke="#000" stroke-width="1.4"/>
<line x1="-22.9" y1="-4.5" x2="23.1" y2="-4.5" stroke="#000" stroke-width="1.35"/>
<line x1="-18" y1="-3" x2="18" y2="0.4" stroke="#000" stroke-width="1.35" stroke-dasharray="9 2"/>
<line x1="-18" y1="-0.7" x2="18" y2="2.7" stroke="#000" stroke-width="1.35" stroke-dasharray="9 2"/>
<line x1="-18" y1="1.6" x2="18" y2="5" stroke="#000" stroke-width="1.35" stroke-dasharray="9 2"/>
<line x1="-18" y1="3.9" x2="18" y2="7.3" stroke="#000" stroke-width="1.35" stroke-dasharray="9 2"/>
<line x1="-18" y1="6.2" x2="18" y2="9.6" stroke="#000" stroke-width="1.35" stroke-dasharray="9 2"/>
</g>
<line x1="258" y1="339.5" x2="322" y2="339.2" stroke="#000" stroke-width="1.35" stroke-dasharray="14 3 3 3"/>
<line x1="322" y1="339" x2="420" y2="338.5" stroke="#000" stroke-width="1.35"/>
<line x1="436" y1="337.2" x2="514" y2="336.8" stroke="#000" stroke-width="1.35" stroke-dasharray="30 3 3 3"/>
<line x1="306.9" y1="284" x2="307.4" y2="389" stroke="#000" stroke-width="1.35" stroke-dasharray="22 3 4 3"/>
<line x1="458.6" y1="284" x2="459.2" y2="387" stroke="#000" stroke-width="1.35" stroke-dasharray="22 3 4 3"/>
<line x1="382.6" y1="376" x2="382.8" y2="434" stroke="#000" stroke-width="1.35" stroke-dasharray="22 3 4 3"/>
<line x1="1045" y1="333.9" x2="1245" y2="333.2" stroke="#000" stroke-width="1.35" stroke-dasharray="40 3 3 3"/>
<line x1="1245" y1="333.2" x2="1320" y2="332.9" stroke="#000" stroke-width="1.35" stroke-dasharray="14 3 3 3"/>
<line x1="1117.5" y1="284.3" x2="1118" y2="405" stroke="#000" stroke-width="1.35" stroke-dasharray="50 3 4 3"/>
<line x1="1268.8" y1="284" x2="1269.2" y2="383" stroke="#000" stroke-width="1.35" stroke-dasharray="40 3 4 3"/>
<line x1="1194.4" y1="410" x2="1194.6" y2="430" stroke="#000" stroke-width="1.35"/>
<circle cx="1313" cy="311" r="13.2" fill="none" stroke="#000" stroke-width="1.5"/>
<rect x="1303.5" y="303" width="8" height="6.5" fill="none" stroke="#000" stroke-width="1.3" rx="2.5"/>
<rect x="1313.5" y="303" width="8" height="6.5" fill="none" stroke="#000" stroke-width="1.3" rx="2.5"/>
<rect x="1303.5" y="312.5" width="8" height="6.5" fill="none" stroke="#000" stroke-width="1.3" rx="2.5"/>
<rect x="1313.5" y="312.5" width="8" height="6.5" fill="none" stroke="#000" stroke-width="1.3" rx="2.5"/>
<path d="M1297.5,290.5 L1297.5,314 C1297.5,320 1302,322 1306,322 L1324,322 C1329,322 1332.5,319 1332.5,314 L1332.5,290.5" fill="none" stroke="#000" stroke-width="1.5"/>
<path d="M1301,290.5 L1301,313 C1301,317.5 1304,319 1307,319 L1323,319 C1327,319 1329,316.5 1329,313 L1329,290.5" fill="none" stroke="#000" stroke-width="1.2"/>
<path d="M1297.5,290.5 L1297.5,285.5 C1297.5,282.5 1301,282.5 1301,285.5 L1301,290.5 M1329,290.5 L1329,285.5 C1329,282.5 1332.5,282.5 1332.5,285.5 L1332.5,290.5" fill="none" stroke="#000" stroke-width="1.3"/>
<line x1="228" y1="424.7" x2="281" y2="424.5" stroke="#000" stroke-width="1.35"/>
<line x1="334" y1="424.3" x2="381" y2="424.1" stroke="#000" stroke-width="1.35"/>
<polygon points="227,424.7 237.5,422.2 237.5,427.2" fill="#000"/>
<polygon points="382.2,424.1 371.7,426.6 371.7,421.6" fill="#000"/>
<polygon points="383.2,424.1 393.7,421.6 393.7,426.6" fill="#000"/>
<text font-size="14" textLength="43.81" lengthAdjust="spacing" stroke="#000" stroke-width="0.3" transform="translate(284 426.6) scale(1.05 1)">6′- 0″</text>
<text font-size="12.5" textLength="42.86" lengthAdjust="spacing" font-style="italic" stroke="#000" stroke-width="0.3" transform="translate(317 441.5) scale(1.05 1)">(1829)</text>
<line x1="391" y1="424.1" x2="738" y2="422.7" stroke="#000" stroke-width="1.35"/>
<line x1="803" y1="422.4" x2="1038" y2="421.5" stroke="#000" stroke-width="1.35"/>
<line x1="1052" y1="421.4" x2="1186" y2="421" stroke="#000" stroke-width="1.35"/>
<text font-size="14" textLength="56.19" lengthAdjust="spacing" stroke="#000" stroke-width="0.3" transform="translate(741 425.6) scale(1.05 1)">31′-  0″</text>
<text font-size="12.5" textLength="48.57" lengthAdjust="spacing" font-style="italic" stroke="#000" stroke-width="0.3" transform="translate(725 440.5) scale(1.05 1)">(9449)</text>
<text font-size="12.7" textLength="119.05" lengthAdjust="spacing" stroke="#000" stroke-width="0.5" transform="translate(802 436.8) scale(1.05 1)">BOGIE  CENTRES</text>
<polygon points="1194,421 1183.5,423.5 1183.5,418.5" fill="#000"/>
<polygon points="1195.2,421 1205.7,418.5 1205.7,423.5" fill="#000"/>
<line x1="1203" y1="421" x2="1246" y2="420.9" stroke="#000" stroke-width="1.35"/>
<line x1="1296" y1="420.8" x2="1343" y2="420.6" stroke="#000" stroke-width="1.35"/>
<polygon points="1350.8,420.6 1340.3,423.1 1340.3,418.1" fill="#000"/>
<line x1="1194.6" y1="409" x2="1194.6" y2="430" stroke="#000" stroke-width="1.35"/>
<text font-size="13.5" textLength="39.52" lengthAdjust="spacing" stroke="#000" stroke-width="0.3" transform="translate(1249.8 424.5) scale(1.05 1)">6′- 0″</text>
<text font-size="12.5" textLength="40.95" lengthAdjust="spacing" font-style="italic" stroke="#000" stroke-width="0.3" transform="translate(1283.4 437) scale(1.05 1)">(1829)</text>
<line x1="236" y1="449" x2="500" y2="448.2" stroke="#000" stroke-width="1.35"/>
<line x1="567" y1="447.9" x2="1343" y2="445.8" stroke="#000" stroke-width="1.35"/>
<polygon points="227.2,449 237.7,446.5 237.7,451.5" fill="#000"/>
<polygon points="1350.8,445.7 1340.3,448.2 1340.3,443.2" fill="#000"/>
<text font-size="14" textLength="54.29" lengthAdjust="spacing" stroke="#000" stroke-width="0.3" transform="translate(505 452.3) scale(1.05 1)">43′- 0″</text>
<text font-size="12.5" textLength="50.48" lengthAdjust="spacing" font-style="italic" stroke="#000" stroke-width="0.3" transform="translate(496 468) scale(1.05 1)">(13107)</text>
<text font-size="12.7" textLength="123.81" lengthAdjust="spacing" stroke="#000" stroke-width="0.5" transform="translate(570 462.2) scale(1.05 1)">OVER  END  SILLS</text>
<line x1="199" y1="476.6" x2="949" y2="475.2" stroke="#000" stroke-width="1.35"/>
<line x1="1027" y1="474.9" x2="1378" y2="473.6" stroke="#000" stroke-width="1.35"/>
<polygon points="190.6,476.6 201.1,474.1 201.1,479.1" fill="#000"/>
<polygon points="1386.6,473.6 1376.1,476.1 1376.1,471.1" fill="#000"/>
<text font-size="14" textLength="58.57" lengthAdjust="spacing" stroke="#000" stroke-width="0.3" transform="translate(954 478.8) scale(1.05 1)">45′- 10″</text>
<text font-size="12.5" textLength="59.52" lengthAdjust="spacing" font-style="italic" stroke="#000" stroke-width="0.3" transform="translate(945.8 495.5) scale(1.05 1)">(13970)</text>
<text font-size="12.7" textLength="161.9" lengthAdjust="spacing" stroke="#000" stroke-width="0.5" transform="translate(1025 488.6) scale(1.05 1)">OVER  PULLING  LINES</text>
<text font-size="12.7" textLength="57.14" lengthAdjust="spacing" stroke="#000" stroke-width="0.5" transform="translate(471 407) scale(1.05 1)">WHEELS</text>
<text font-size="13.5" textLength="32.38" lengthAdjust="spacing" stroke="#000" stroke-width="0.3" transform="translate(546 407) scale(1.05 1)">3′-0</text>
<text font-size="11" text-anchor="middle" stroke="#000" stroke-width="0.3" transform="translate(587 400.9) scale(1.05 1)">1</text>
<line x1="582.34" y1="402.5" x2="591.66" y2="402.5" stroke="#000" stroke-width="1.3"/>
<text font-size="11" text-anchor="middle" stroke="#000" stroke-width="0.3" transform="translate(587 412.02) scale(1.05 1)">4</text>
<text font-size="11" stroke="#000" stroke-width="0.5" transform="translate(592 399) scale(1.05 1)">″</text>
<text font-size="12.7" textLength="203.33" lengthAdjust="spacing" stroke="#000" stroke-width="0.5" transform="translate(871.6 389.6) scale(1.05 1)">40  TON  CAST  STEEL  RIDE</text>
<text font-size="12.7" textLength="204.29" lengthAdjust="spacing" stroke="#000" stroke-width="0.5" transform="translate(871.6 403.3) scale(1.05 1)">CONTROL BOGIES.  ROLLER</text>
<text font-size="12.7" textLength="65.24" lengthAdjust="spacing" stroke="#000" stroke-width="0.5" transform="translate(871.6 416.8) scale(1.05 1)">BEARING</text>
<line x1="1118" y1="380" x2="1118" y2="405.5" stroke="#000" stroke-width="1.35"/>
<line x1="1268.8" y1="380" x2="1268.8" y2="405.5" stroke="#000" stroke-width="1.35"/>
<line x1="1126" y1="394.4" x2="1170" y2="394.4" stroke="#000" stroke-width="1.35"/>
<line x1="1220" y1="394.2" x2="1261" y2="394.1" stroke="#000" stroke-width="1.35"/>
<polygon points="1118.6,394.4 1129.1,391.9 1129.1,396.9" fill="#000"/>
<polygon points="1268.4,394.1 1257.9,396.6 1257.9,391.6" fill="#000"/>
<text font-size="13.5" textLength="40" lengthAdjust="spacing" stroke="#000" stroke-width="0.3" transform="translate(1174.4 399) scale(1.05 1)">5′- 9″</text>
<text font-size="12" textLength="37.62" lengthAdjust="spacing" font-style="italic" stroke="#000" stroke-width="0.3" transform="translate(1222 390) scale(1.05 1)">(1753)</text>
<text font-size="12.7" textLength="126.19" lengthAdjust="spacing" stroke="#000" stroke-width="0.5" transform="translate(2.5 404.8) scale(1.05 1)">SHUNTER′S  STEP</text>
<line x1="141" y1="400" x2="160" y2="400" stroke="#000" stroke-width="1.35"/>
<line x1="160" y1="400" x2="205.5" y2="350" stroke="#000" stroke-width="1.35"/>
<polygon points="209,346 203.87,355.5 200.14,352.17" fill="#000"/>
<line x1="160" y1="400" x2="200" y2="555" stroke="#000" stroke-width="1.35"/>
<polygon points="202.3,564.3 197.33,554.72 202.18,553.51" fill="#000"/>
<text font-size="12.7" textLength="104.76" lengthAdjust="spacing" stroke="#000" stroke-width="0.5" transform="translate(1415 407) scale(1.05 1)">SHUNTERS′STEP</text>
<polyline points="1413.4,403.2 1396,403.2 1366,346" fill="none" stroke="#000" stroke-width="1.35"/>
<polygon points="1362.6,339.6 1369.53,347.87 1365.06,350.11" fill="#000"/>
<line x1="1527" y1="403.2" x2="1583" y2="403.2" stroke="#000" stroke-width="1.35"/>
<line x1="1583" y1="403.2" x2="1615" y2="348" stroke="#000" stroke-width="1.35"/>
<polygon points="1618,342.5 1615.13,352.91 1610.75,350.5" fill="#000"/>
<text font-size="12.7" textLength="89.52" lengthAdjust="spacing" stroke="#000" stroke-width="0.5" transform="translate(1415 431) scale(1.05 1)">HANDBRAKE</text>
<polyline points="1413,427.6 1398.3,427.6 1321,337" fill="none" stroke="#000" stroke-width="1.35"/>
<polygon points="1315.2,330.6 1323.91,336.98 1320.1,340.22" fill="#000"/>
<text font-size="12.3" textLength="187.62" lengthAdjust="spacing" stroke="#000" stroke-width="0.5" transform="translate(1119 75.8) scale(1.05 1)">THESE  HANDHOLDS  &amp;  STEPS</text>
<text font-size="12.3" textLength="191.43" lengthAdjust="spacing" stroke="#000" stroke-width="0.5" transform="translate(1119 90.8) scale(1.05 1)">ARE  FITTED  TO  WAGONS  WITH</text>
<text font-size="12.3" textLength="179.05" lengthAdjust="spacing" stroke="#000" stroke-width="0.5" transform="translate(1119 105.8) scale(1.05 1)">RATCHET  HANDBRAKE  ONLY</text>
<text font-size="12.7" textLength="86.67" lengthAdjust="spacing" stroke="#000" stroke-width="0.5" transform="translate(1438 131) scale(1.05 1)">HANDBRAKE</text>
<polyline points="1437.5,127 1422.5,127 1380,189" fill="none" stroke="#000" stroke-width="1.35"/>
<polygon points="1375.8,195.2 1379.64,185.11 1383.77,187.92" fill="#000"/>
<polyline points="1535,127 1577.5,127 1655,196" fill="none" stroke="#000" stroke-width="1.35"/>
<polygon points="1661,201.5 1651.52,196.33 1654.87,192.62" fill="#000"/>
<text font-size="12.7" textLength="64.29" lengthAdjust="spacing" stroke="#000" stroke-width="0.5" transform="translate(1405.8 272.6) rotate(-90) scale(1.05 1)">COUPLER</text>
<text font-size="13" font-style="italic" stroke="#000" stroke-width="0.5" transform="translate(1402 302.5)">C</text>
<path d="M1409.5,289.5 L1402.5,304.5 M1402,305 L1411,305" fill="none" stroke="#000" stroke-width="1.4"/>
<line x1="1389" y1="297.6" x2="1418" y2="297.4" stroke="#000" stroke-width="1.35"/>
<line x1="1415.2" y1="305" x2="1415.2" y2="318" stroke="#000" stroke-width="1.35"/>
<line x1="1415.2" y1="348" x2="1415.2" y2="366" stroke="#000" stroke-width="1.35"/>
<polygon points="1415.2,298 1417.7,308.5 1412.7,308.5" fill="#000"/>
<polygon points="1415.2,373.3 1412.7,362.8 1417.7,362.8" fill="#000"/>
<text font-size="12.5" textLength="30.95" lengthAdjust="spacing" font-style="italic" stroke="#000" stroke-width="0.3" transform="translate(1401 348.5) rotate(-80) scale(1.05 1)">(914)</text>
<text font-size="13" textLength="26.67" lengthAdjust="spacing" stroke="#000" stroke-width="0.5" transform="translate(1420 347) rotate(-90) scale(1.05 1)">3′-0″</text>
<text font-size="12.7" textLength="65.14" lengthAdjust="spacing" stroke="#000" stroke-width="0.5" transform="translate(1432.6 369) rotate(-90) scale(1.05 1)">TARE  HT.</text>
<line x1="225.5" y1="547.2" x2="382.5" y2="546.5" stroke="#000" stroke-width="2"/>
<line x1="382.5" y1="547.4" x2="1344.6" y2="543" stroke="#000" stroke-width="1.7"/>
<line x1="226.8" y1="551.6" x2="1352" y2="548.2" stroke="#000" stroke-width="1.7"/>
<line x1="227" y1="783.8" x2="1352" y2="779.6" stroke="#000" stroke-width="1.7"/>
<line x1="227.5" y1="790.2" x2="384" y2="789.5" stroke="#000" stroke-width="2"/>
<line x1="384" y1="788.8" x2="1349.5" y2="785.2" stroke="#000" stroke-width="1.7"/>
<path d="M225.5,547.2 L222,548 L216.3,564.5 L217,768 L221,780 C222.5,786 224,789.5 227.5,790.2" fill="none" stroke="#000" stroke-width="1.7"/>
<line x1="226.8" y1="551.6" x2="227.2" y2="783.8" stroke="#000" stroke-width="1.7"/>
<circle cx="229" cy="548" r="1.6" fill="#000" stroke="#000" stroke-width="1"/>
<path d="M1344.6,543 L1344.6,540.2 C1352,539.5 1355,541 1357,546 L1363.3,563 L1363.3,770 C1362,778 1358,785 1352,787.3 L1349.3,787.3 L1349.5,785.2" fill="none" stroke="#000" stroke-width="1.7"/>
<line x1="1352.2" y1="548.2" x2="1352.2" y2="779.6" stroke="#000" stroke-width="1.7"/>
<line x1="1344.6" y1="543" x2="1352" y2="548.2" stroke="#000" stroke-width="1.35"/>
<line x1="382.5" y1="547.3" x2="382.5" y2="551.2" stroke="#000" stroke-width="1.35"/>
<line x1="651" y1="546.3" x2="651" y2="550.4" stroke="#000" stroke-width="1.35"/>
<line x1="931" y1="544.6" x2="931" y2="549.3" stroke="#000" stroke-width="1.35"/>
<line x1="1198.5" y1="543.4" x2="1198.5" y2="548.5" stroke="#000" stroke-width="1.35"/>
<line x1="384.2" y1="783.3" x2="384.2" y2="789" stroke="#000" stroke-width="1.35"/>
<line x1="504.5" y1="782.9" x2="504.5" y2="788.6" stroke="#000" stroke-width="1.35"/>
<line x1="530.8" y1="782.8" x2="530.8" y2="788.5" stroke="#000" stroke-width="1.35"/>
<line x1="652.5" y1="782.4" x2="652.5" y2="788" stroke="#000" stroke-width="1.35"/>
<line x1="933" y1="781.3" x2="933" y2="786.8" stroke="#000" stroke-width="1.35"/>
<line x1="1055" y1="780.8" x2="1055" y2="786.4" stroke="#000" stroke-width="1.35"/>
<line x1="1080.5" y1="780.7" x2="1080.5" y2="786.3" stroke="#000" stroke-width="1.35"/>
<line x1="1200" y1="780.2" x2="1200" y2="785.8" stroke="#000" stroke-width="1.35"/>
<line x1="382.5" y1="547.3" x2="500" y2="526.5" stroke="#000" stroke-width="1.3" stroke-dasharray="34 3"/>
<line x1="651" y1="547.2" x2="531" y2="525.8" stroke="#000" stroke-width="1.3" stroke-dasharray="34 3"/>
<path d="M498.3,513.3 Q501.8,530 502.8,549.5" fill="none" stroke="#000" stroke-width="1.2"/>
<path d="M534,513.5 Q530,530 529,549" fill="none" stroke="#000" stroke-width="1.2"/>
<line x1="931" y1="544.6" x2="1047.5" y2="523" stroke="#000" stroke-width="1.3" stroke-dasharray="34 3"/>
<line x1="1199" y1="543.2" x2="1082.5" y2="523" stroke="#000" stroke-width="1.3" stroke-dasharray="34 3"/>
<path d="M1046.5,509.5 Q1050.6,528 1052,549" fill="none" stroke="#000" stroke-width="1.2"/>
<path d="M1083.3,511.5 Q1079.4,528 1078.5,548" fill="none" stroke="#000" stroke-width="1.2"/>
<line x1="384.2" y1="788.8" x2="502.5" y2="810.5" stroke="#000" stroke-width="1.3" stroke-dasharray="34 3"/>
<line x1="652.5" y1="788.2" x2="533.8" y2="810.5" stroke="#000" stroke-width="1.3" stroke-dasharray="34 3"/>
<path d="M502,806 Q503,812 504.3,818.5" fill="none" stroke="#000" stroke-width="1.2"/>
<path d="M531.2,806 Q532.8,812 535.3,819" fill="none" stroke="#000" stroke-width="1.2"/>
<line x1="933" y1="786.8" x2="1050" y2="809" stroke="#000" stroke-width="1.3" stroke-dasharray="34 3"/>
<line x1="1199.5" y1="785.4" x2="1083.8" y2="806.8" stroke="#000" stroke-width="1.3" stroke-dasharray="34 3"/>
<path d="M1051,803 Q1052,810 1053,816.5" fill="none" stroke="#000" stroke-width="1.2"/>
<path d="M1081,803 Q1082.6,810 1085,816" fill="none" stroke="#000" stroke-width="1.2"/>
<rect x="205" y="567" width="10.5" height="38.8" fill="none" stroke="#000" stroke-width="1.7" rx="3"/>
<rect x="1365.3" y="727.3" width="8.8" height="39.7" fill="none" stroke="#000" stroke-width="1.7" rx="2.5"/>
<line x1="1363.5" y1="730" x2="1365.3" y2="730" stroke="#000" stroke-width="1.35"/>
<line x1="1363.5" y1="764" x2="1365.3" y2="764" stroke="#000" stroke-width="1.35"/>
<line x1="150" y1="668.5" x2="228" y2="668.2" stroke="#000" stroke-width="1.35"/>
<line x1="236" y1="668.2" x2="470" y2="667.4" stroke="#000" stroke-width="1.35" stroke-dasharray="120 4 6 4"/>
<line x1="470" y1="667.4" x2="1402" y2="664.3" stroke="#000" stroke-width="1.35" stroke-dasharray="150 5 8 5"/>
<line x1="789.5" y1="529" x2="790.6" y2="800" stroke="#000" stroke-width="1.35" stroke-dasharray="70 4 6 4"/>
<line x1="190.6" y1="624.5" x2="191.2" y2="718" stroke="#000" stroke-width="1.35" stroke-dasharray="28 3 4 3"/>
<line x1="1388" y1="622.3" x2="1388.4" y2="707" stroke="#000" stroke-width="1.35" stroke-dasharray="28 3 4 3"/>
<g transform="translate(216 668.3) rotate(0)">
<path d="M0,-4.8 L-3.7,-5.3 L-12.4,-14.6 C-15,-16.8 -18,-17 -21.1,-16.8 C-23,-16 -24.5,-14.5 -25.5,-13.3 C-29,-11.5 -32,-9.5 -32.6,-6.5 L-32.6,2.7 C-32,5.5 -30.5,6.5 -28.6,6.5 L-25.5,5.7 L-25.2,16.2 L-15,16.7 L-8,9.7 L0,8.4" fill="none" stroke="#000" stroke-width="2.4"/>
<line x1="-4.5" y1="-6.2" x2="-12.4" y2="-14.6" stroke="#000" stroke-width="4.2"/>
<path d="M-23.6,15.7 L-12.4,6.5 L-6.2,6.5 L-6.2,-3.3 L-11,-5.5 M-25.5,5.7 L-25.8,-4 L-20,-4 L-18.5,6.5 L-24,12 M-22,-14 C-21.5,-9 -18.5,-7.5 -15.5,-7.5 M-28,-9 C-27,-6 -25,-5 -23,-5 M-29,1 C-28,3 -27,3 -26,2 M-15,-13 L-16,-9.5" fill="none" stroke="#000" stroke-width="2"/>
<ellipse cx="-13.6" cy="0" rx="3.6" ry="1.8" fill="#000" stroke="#000" stroke-width="1"/>
</g>
<g transform="translate(1363 664.2) rotate(180)">
<path d="M0,-4.8 L-3.7,-5.3 L-12.4,-14.6 C-15,-16.8 -18,-17 -21.1,-16.8 C-23,-16 -24.5,-14.5 -25.5,-13.3 C-29,-11.5 -32,-9.5 -32.6,-6.5 L-32.6,2.7 C-32,5.5 -30.5,6.5 -28.6,6.5 L-25.5,5.7 L-25.2,16.2 L-15,16.7 L-8,9.7 L0,8.4" fill="none" stroke="#000" stroke-width="2.4"/>
<line x1="-4.5" y1="-6.2" x2="-12.4" y2="-14.6" stroke="#000" stroke-width="4.2"/>
<path d="M-23.6,15.7 L-12.4,6.5 L-6.2,6.5 L-6.2,-3.3 L-11,-5.5 M-25.5,5.7 L-25.8,-4 L-20,-4 L-18.5,6.5 L-24,12 M-22,-14 C-21.5,-9 -18.5,-7.5 -15.5,-7.5 M-28,-9 C-27,-6 -25,-5 -23,-5 M-29,1 C-28,3 -27,3 -26,2 M-15,-13 L-16,-9.5" fill="none" stroke="#000" stroke-width="2"/>
<ellipse cx="-13.6" cy="0" rx="3.6" ry="1.8" fill="#000" stroke="#000" stroke-width="1"/>
</g>
<line x1="236" y1="700.2" x2="687" y2="699" stroke="#000" stroke-width="1.35"/>
<line x1="727" y1="698.9" x2="846" y2="698.6" stroke="#000" stroke-width="1.35"/>
<line x1="940" y1="698.4" x2="1343" y2="697.6" stroke="#000" stroke-width="1.35"/>
<polygon points="228,700.2 238.5,697.7 238.5,702.7" fill="#000"/>
<polygon points="1352,697.6 1341.5,700.1 1341.5,695.1" fill="#000"/>
<text font-size="14" textLength="49.52" lengthAdjust="spacing" stroke="#000" stroke-width="0.3" transform="translate(854 701.5) scale(1.05 1)">42′- 11</text>
<text font-size="11" text-anchor="middle" stroke="#000" stroke-width="0.3" transform="translate(918 695) scale(1.05 1)">5</text>
<line x1="913.34" y1="696.6" x2="922.66" y2="696.6" stroke="#000" stroke-width="1.3"/>
<text font-size="11" text-anchor="middle" stroke="#000" stroke-width="0.3" transform="translate(918 706.12) scale(1.05 1)">8</text>
<text font-size="11" stroke="#000" stroke-width="0.5" transform="translate(924 692) scale(1.05 1)">″</text>
<text font-size="12.5" textLength="56.19" lengthAdjust="spacing" font-style="italic" stroke="#000" stroke-width="0.3" transform="translate(871 721.5) scale(1.05 1)">(13097)</text>
<text font-size="12.7" textLength="46.19" lengthAdjust="spacing" stroke="#000" stroke-width="0.5" transform="translate(937.5 712) scale(1.05 1)">INSIDE</text>
<line x1="705" y1="558" x2="705.4" y2="676" stroke="#000" stroke-width="1.35"/>
<line x1="706" y1="741" x2="706.2" y2="773" stroke="#000" stroke-width="1.35"/>
<polygon points="704.9,549.8 707.4,560.3 702.4,560.3" fill="#000"/>
<polygon points="706.2,781.8 703.7,771.3 708.7,771.3" fill="#000"/>
<text font-size="12.7" textLength="46.67" lengthAdjust="spacing" stroke="#000" stroke-width="0.5" transform="translate(718.6 661) rotate(-90) scale(1.05 1)">INSIDE</text>
<text font-size="14" textLength="41.9" lengthAdjust="spacing" stroke="#000" stroke-width="0.3" transform="translate(710.5 737) rotate(-90) scale(1.05 1)">8′-10</text>
<g transform="rotate(-90 705.5 686)">
<text font-size="11" text-anchor="middle" stroke="#000" stroke-width="0.3" transform="translate(705.5 684.4) scale(1.05 1)">3</text>
<line x1="700.84" y1="686" x2="710.16" y2="686" stroke="#000" stroke-width="1.3"/>
<text font-size="11" text-anchor="middle" stroke="#000" stroke-width="0.3" transform="translate(705.5 695.52) scale(1.05 1)">4</text>
</g>
<text font-size="11" stroke="#000" stroke-width="0.5" transform="translate(699 680) rotate(-90) scale(1.05 1)">″</text>
<text font-size="12.5" textLength="25.24" lengthAdjust="spacing" font-style="italic" stroke="#000" stroke-width="0.3" transform="translate(731.5 696) rotate(-90) scale(1.05 1)">2711</text>
<text font-size="12.7" textLength="186.67" lengthAdjust="spacing" stroke="#000" stroke-width="0.5" transform="translate(774.5 588) scale(1.05 1)">REMOVABLE  STANCHION</text>
<polyline points="979,584 1002.5,584 1050,554" fill="none" stroke="#000" stroke-width="1.35"/>
<polygon points="1055.5,550.6 1047.92,558.28 1045.27,554.04" fill="#000"/>
<line x1="1199.5" y1="725.7" x2="1200" y2="888" stroke="#000" stroke-width="1.35"/>
<line x1="1208" y1="736.8" x2="1246" y2="736.7" stroke="#000" stroke-width="1.35"/>
<line x1="1306" y1="736.6" x2="1343" y2="736.5" stroke="#000" stroke-width="1.35"/>
<polygon points="1200.2,736.8 1210.7,734.3 1210.7,739.3" fill="#000"/>
<polygon points="1351.8,736.5 1341.3,739 1341.3,734" fill="#000"/>
<text font-size="14" textLength="30.48" lengthAdjust="spacing" stroke="#000" stroke-width="0.3" transform="translate(1250 740) scale(1.05 1)">6′- 1</text>
<text font-size="11" text-anchor="middle" stroke="#000" stroke-width="0.3" transform="translate(1294 733.9) scale(1.05 1)">1</text>
<line x1="1285.93" y1="735.5" x2="1302.07" y2="735.5" stroke="#000" stroke-width="1.3"/>
<text font-size="11" text-anchor="middle" stroke="#000" stroke-width="0.3" transform="translate(1294 745.02) scale(1.05 1)">16</text>
<text font-size="11" stroke="#000" stroke-width="0.5" transform="translate(1300 731) scale(1.05 1)">″</text>
<text font-size="12.5" textLength="43.81" lengthAdjust="spacing" font-style="italic" stroke="#000" stroke-width="0.3" transform="translate(1267.5 759) scale(1.05 1)">(1856)</text>
<line x1="1357" y1="539.9" x2="1430" y2="539.7" stroke="#000" stroke-width="1.35"/>
<line x1="1361.7" y1="787" x2="1431.7" y2="786.8" stroke="#000" stroke-width="1.35"/>
<line x1="1418" y1="548" x2="1418.2" y2="650" stroke="#000" stroke-width="1.35"/>
<line x1="1418.4" y1="712" x2="1418.4" y2="778" stroke="#000" stroke-width="1.35"/>
<polygon points="1418,540.2 1420.5,550.7 1415.5,550.7" fill="#000"/>
<polygon points="1418.4,786.6 1415.9,776.1 1420.9,776.1" fill="#000"/>
<text font-size="12.5" textLength="40.95" lengthAdjust="spacing" font-style="italic" stroke="#000" stroke-width="0.3" transform="translate(1413 650.5) rotate(-84) scale(1.05 1)">(2930)</text>
<text font-size="14" textLength="32.38" lengthAdjust="spacing" stroke="#000" stroke-width="0.3" transform="translate(1423 710) rotate(-90) scale(1.05 1)">9′-7</text>
<g transform="rotate(-90 1418 668.5)">
<text font-size="11" text-anchor="middle" stroke="#000" stroke-width="0.3" transform="translate(1418 666.9) scale(1.05 1)">3</text>
<line x1="1413.34" y1="668.5" x2="1422.66" y2="668.5" stroke="#000" stroke-width="1.3"/>
<text font-size="11" text-anchor="middle" stroke="#000" stroke-width="0.3" transform="translate(1418 678.02) scale(1.05 1)">8</text>
</g>
<text font-size="11" stroke="#000" stroke-width="0.5" transform="translate(1411.5 662) rotate(-90) scale(1.05 1)">″</text>
<text font-size="12.7" textLength="153.33" lengthAdjust="spacing" stroke="#000" stroke-width="0.5" transform="translate(1443 701.7) rotate(-90) scale(1.05 1)">MAX. OVERALL WIDTH</text>
<text font-size="12.7" textLength="114.29" lengthAdjust="spacing" stroke="#000" stroke-width="0.5" transform="translate(1501 694.5) scale(1.05 1)">SHUNTER′S STEP</text>
<polyline points="1500,689 1485,689 1383,747.5" fill="none" stroke="#000" stroke-width="1.35"/>
<polygon points="1375.8,751.6 1383.68,744.22 1386.16,748.56" fill="#000"/>
<polyline points="1627.5,689 1646,689 1619,640" fill="none" stroke="#000" stroke-width="1.35"/>
<polygon points="1616,634.6 1623.25,642.6 1618.87,645.01" fill="#000"/>
<line x1="227.2" y1="798" x2="227.5" y2="845.5" stroke="#000" stroke-width="1.35"/>
<line x1="384.2" y1="790" x2="384.5" y2="883" stroke="#000" stroke-width="1.35"/>
<line x1="504.5" y1="790" x2="504.8" y2="840" stroke="#000" stroke-width="1.35"/>
<line x1="530.8" y1="790" x2="531.1" y2="840" stroke="#000" stroke-width="1.35"/>
<line x1="652.5" y1="789" x2="652.8" y2="888" stroke="#000" stroke-width="1.35"/>
<line x1="933" y1="788" x2="933.3" y2="888" stroke="#000" stroke-width="1.35"/>
<line x1="1055" y1="787" x2="1055.3" y2="840" stroke="#000" stroke-width="1.35"/>
<line x1="1080.5" y1="787" x2="1080.8" y2="840" stroke="#000" stroke-width="1.35"/>
<line x1="235.2" y1="833.9" x2="289" y2="833.8" stroke="#000" stroke-width="1.35"/>
<line x1="343" y1="833.8" x2="376.2" y2="833.7" stroke="#000" stroke-width="1.35"/>
<polygon points="227.8,833.9 238.3,831.4 238.3,836.4" fill="#000"/>
<polygon points="383.6,833.7 373.1,836.2 373.1,831.2" fill="#000"/>
<text font-size="14" textLength="29.52" lengthAdjust="spacing" stroke="#000" stroke-width="0.3" transform="translate(292.5 837) scale(1.05 1)">6′- 1</text>
<text font-size="11" text-anchor="middle" stroke="#000" stroke-width="0.3" transform="translate(331 830.9) scale(1.05 1)">1</text>
<line x1="322.93" y1="832.5" x2="339.07" y2="832.5" stroke="#000" stroke-width="1.3"/>
<text font-size="11" text-anchor="middle" stroke="#000" stroke-width="0.3" transform="translate(331 842.02) scale(1.05 1)">16</text>
<text font-size="11" stroke="#000" stroke-width="0.5" transform="translate(336 828) scale(1.05 1)">″</text>
<text font-size="12.5" textLength="45.24" lengthAdjust="spacing" font-style="italic" stroke="#000" stroke-width="0.3" transform="translate(300 856.5) scale(1.05 1)">(1856)</text>
<line x1="392.2" y1="833.7" x2="424" y2="833.6" stroke="#000" stroke-width="1.35"/>
<line x1="479" y1="833.6" x2="496.5" y2="833.5" stroke="#000" stroke-width="1.35"/>
<polygon points="384.8,833.7 395.3,831.2 395.3,836.2" fill="#000"/>
<polygon points="503.9,833.5 493.4,836 493.4,831" fill="#000"/>
<text font-size="14" textLength="29.52" lengthAdjust="spacing" stroke="#000" stroke-width="0.3" transform="translate(427.5 837) scale(1.05 1)">4′-7</text>
<text font-size="11" text-anchor="middle" stroke="#000" stroke-width="0.3" transform="translate(466 830.9) scale(1.05 1)">1</text>
<line x1="461.34" y1="832.5" x2="470.66" y2="832.5" stroke="#000" stroke-width="1.3"/>
<text font-size="11" text-anchor="middle" stroke="#000" stroke-width="0.3" transform="translate(466 842.02) scale(1.05 1)">2</text>
<text font-size="11" stroke="#000" stroke-width="0.5" transform="translate(471 828) scale(1.05 1)">″</text>
<text font-size="12.5" textLength="37.14" lengthAdjust="spacing" font-style="italic" stroke="#000" stroke-width="0.3" transform="translate(425 821.5) scale(1.05 1)">(1410)</text>
<text font-size="11.5" textLength="20.48" lengthAdjust="spacing" font-style="italic" stroke="#000" stroke-width="0.3" transform="translate(506 820.5) scale(1.05 1)">304</text>
<text font-size="13" textLength="21.43" lengthAdjust="spacing" stroke="#000" stroke-width="0.3" transform="translate(506.5 837) scale(1.05 1)">1′-0″</text>
<line x1="538.8" y1="833.5" x2="572" y2="833.4" stroke="#000" stroke-width="1.35"/>
<line x1="620" y1="833.4" x2="644.5" y2="833.3" stroke="#000" stroke-width="1.35"/>
<polygon points="531.4,833.5 541.9,831 541.9,836" fill="#000"/>
<polygon points="651.9,833.3 641.4,835.8 641.4,830.8" fill="#000"/>
<text font-size="14" textLength="29.52" lengthAdjust="spacing" stroke="#000" stroke-width="0.3" transform="translate(575.5 837) scale(1.05 1)">4′-7</text>
<text font-size="11" text-anchor="middle" stroke="#000" stroke-width="0.3" transform="translate(610 830.9) scale(1.05 1)">1</text>
<line x1="605.34" y1="832.5" x2="614.66" y2="832.5" stroke="#000" stroke-width="1.3"/>
<text font-size="11" text-anchor="middle" stroke="#000" stroke-width="0.3" transform="translate(610 842.02) scale(1.05 1)">2</text>
<text font-size="11" stroke="#000" stroke-width="0.5" transform="translate(615 828) scale(1.05 1)">″</text>
<text font-size="12.5" textLength="37.14" lengthAdjust="spacing" font-style="italic" stroke="#000" stroke-width="0.3" transform="translate(566.5 821) scale(1.05 1)">(1410)</text>
<line x1="660.5" y1="833.3" x2="743" y2="832.75" stroke="#000" stroke-width="1.35"/>
<line x1="820" y1="832.75" x2="925" y2="832.2" stroke="#000" stroke-width="1.35"/>
<polygon points="653.1,833.3 663.6,830.8 663.6,835.8" fill="#000"/>
<polygon points="932.4,832.2 921.9,834.7 921.9,829.7" fill="#000"/>
<text font-size="14" textLength="43.33" lengthAdjust="spacing" stroke="#000" stroke-width="0.3" transform="translate(747 835.6) scale(1.05 1)">10′- 3</text>
<text font-size="11" text-anchor="middle" stroke="#000" stroke-width="0.3" transform="translate(801 829.9) scale(1.05 1)">1</text>
<line x1="796.34" y1="831.5" x2="805.66" y2="831.5" stroke="#000" stroke-width="1.3"/>
<text font-size="11" text-anchor="middle" stroke="#000" stroke-width="0.3" transform="translate(801 841.02) scale(1.05 1)">2</text>
<text font-size="11" stroke="#000" stroke-width="0.5" transform="translate(807 827) scale(1.05 1)">″</text>
<text font-size="12.5" textLength="42.86" lengthAdjust="spacing" font-style="italic" stroke="#000" stroke-width="0.3" transform="translate(801 853.5) scale(1.05 1)">(3137)</text>
<line x1="941" y1="832.2" x2="970" y2="832.1" stroke="#000" stroke-width="1.35"/>
<line x1="1028" y1="832.1" x2="1047" y2="832" stroke="#000" stroke-width="1.35"/>
<polygon points="933.6,832.2 944.1,829.7 944.1,834.7" fill="#000"/>
<polygon points="1054.4,832 1043.9,834.5 1043.9,829.5" fill="#000"/>
<text font-size="14" textLength="31.43" lengthAdjust="spacing" stroke="#000" stroke-width="0.3" transform="translate(974 835.3) scale(1.05 1)">4′- 7</text>
<text font-size="11" text-anchor="middle" stroke="#000" stroke-width="0.3" transform="translate(1014 829.4) scale(1.05 1)">1</text>
<line x1="1009.34" y1="831" x2="1018.66" y2="831" stroke="#000" stroke-width="1.3"/>
<text font-size="11" text-anchor="middle" stroke="#000" stroke-width="0.3" transform="translate(1014 840.52) scale(1.05 1)">2</text>
<text font-size="11" stroke="#000" stroke-width="0.5" transform="translate(1019 826.5) scale(1.05 1)">″</text>
<text font-size="12.5" textLength="39.05" lengthAdjust="spacing" font-style="italic" stroke="#000" stroke-width="0.3" transform="translate(974 819) scale(1.05 1)">(1410)</text>
<text font-size="11.5" textLength="20.95" lengthAdjust="spacing" font-style="italic" stroke="#000" stroke-width="0.3" transform="translate(1057 818.5) scale(1.05 1)">304</text>
<text font-size="13" textLength="21.43" lengthAdjust="spacing" stroke="#000" stroke-width="0.3" transform="translate(1057.5 835.3) scale(1.05 1)">1′-0″</text>
<line x1="1088.5" y1="832" x2="1121" y2="831.9" stroke="#000" stroke-width="1.35"/>
<line x1="1176" y1="831.9" x2="1192" y2="831.8" stroke="#000" stroke-width="1.35"/>
<polygon points="1081.1,832 1091.6,829.5 1091.6,834.5" fill="#000"/>
<polygon points="1199.4,831.8 1188.9,834.3 1188.9,829.3" fill="#000"/>
<text font-size="14" textLength="28.57" lengthAdjust="spacing" stroke="#000" stroke-width="0.3" transform="translate(1125 835.3) scale(1.05 1)">4′-7</text>
<text font-size="11" text-anchor="middle" stroke="#000" stroke-width="0.3" transform="translate(1163 829.4) scale(1.05 1)">1</text>
<line x1="1158.34" y1="831" x2="1167.66" y2="831" stroke="#000" stroke-width="1.3"/>
<text font-size="11" text-anchor="middle" stroke="#000" stroke-width="0.3" transform="translate(1163 840.52) scale(1.05 1)">2</text>
<text font-size="11" stroke="#000" stroke-width="0.5" transform="translate(1168 826.5) scale(1.05 1)">″</text>
<text font-size="12.5" textLength="38.1" lengthAdjust="spacing" font-style="italic" stroke="#000" stroke-width="0.3" transform="translate(1116 818) scale(1.05 1)">(1410)</text>
<text font-size="12.7" textLength="104.76" lengthAdjust="spacing" stroke="#000" stroke-width="0.5" transform="translate(458.8 858.8) scale(1.05 1)">DOOR OPENING</text>
<polyline points="457,854.5 433,854.5 444,842" fill="none" stroke="#000" stroke-width="1.35"/>
<polygon points="448.5,837.3 443.33,846.78 439.62,843.43" fill="#000"/>
<polyline points="570,854.5 594,854.5 583,842" fill="none" stroke="#000" stroke-width="1.35"/>
<polygon points="578.5,837 587.38,843.13 583.67,846.48" fill="#000"/>
<text font-size="12.7" textLength="108.57" lengthAdjust="spacing" stroke="#000" stroke-width="0.5" transform="translate(1011 858) scale(1.05 1)">DOOR OPENING</text>
<polyline points="1009,853.8 988,853.8 998,841.5" fill="none" stroke="#000" stroke-width="1.35"/>
<polygon points="1002.5,836.3 997.33,845.78 993.62,842.43" fill="#000"/>
<polyline points="1127,853.8 1148,853.8 1138,841.5" fill="none" stroke="#000" stroke-width="1.35"/>
<polygon points="1133.5,836 1142.38,842.13 1138.67,845.48" fill="#000"/>
<line x1="393" y1="881.2" x2="481" y2="881" stroke="#000" stroke-width="1.35"/>
<line x1="584" y1="880.8" x2="644" y2="880.7" stroke="#000" stroke-width="1.35"/>
<polygon points="384.8,881.2 395.3,878.7 395.3,883.7" fill="#000"/>
<polygon points="652.2,880.7 641.7,883.2 641.7,878.2" fill="#000"/>
<text font-size="14" textLength="55.24" lengthAdjust="spacing" stroke="#000" stroke-width="0.3" transform="translate(485 884.2) scale(1.05 1)">10′-  3″</text>
<text font-size="12" textLength="40.48" lengthAdjust="spacing" font-style="italic" stroke="#000" stroke-width="0.3" transform="translate(540 892.3) scale(1.05 1)">(3124)</text>
<text font-size="12.7" textLength="132.19" lengthAdjust="spacing" stroke="#000" stroke-width="0.5" transform="translate(445 903.5) scale(1.05 1)">CLEAR  OPENING</text>
<line x1="942" y1="878.7" x2="1040" y2="878.6" stroke="#000" stroke-width="1.35"/>
<line x1="1142" y1="878.4" x2="1191" y2="878.3" stroke="#000" stroke-width="1.35"/>
<polygon points="933.6,878.7 944.1,876.2 944.1,881.2" fill="#000"/>
<polygon points="1199.6,878.3 1189.1,880.8 1189.1,875.8" fill="#000"/>
<text font-size="14" textLength="52.38" lengthAdjust="spacing" stroke="#000" stroke-width="0.3" transform="translate(1044 882.6) scale(1.05 1)">10′-  3″</text>
<text font-size="12" textLength="42.86" lengthAdjust="spacing" font-style="italic" stroke="#000" stroke-width="0.3" transform="translate(1096 890.4) scale(1.05 1)">(3124)</text>
<text font-size="12.7" textLength="127.62" lengthAdjust="spacing" stroke="#000" stroke-width="0.5" transform="translate(1000 902.6) scale(1.05 1)">CLEAR  OPENING</text>
<line x1="1604.3" y1="151.5" x2="1848.3" y2="150.6" stroke="#000" stroke-width="4.2"/>
<line x1="1607.4" y1="152" x2="1608.2" y2="290.5" stroke="#000" stroke-width="1.7"/>
<line x1="1618" y1="153.5" x2="1619" y2="290.5" stroke="#000" stroke-width="1.7"/>
<line x1="1832" y1="153" x2="1833" y2="291.3" stroke="#000" stroke-width="1.7"/>
<line x1="1842" y1="153" x2="1843.4" y2="291.3" stroke="#000" stroke-width="1.7"/>
<line x1="1608.2" y1="290.6" x2="1660" y2="290.4" stroke="#000" stroke-width="1.7"/>
<line x1="1746.8" y1="291.4" x2="1843.4" y2="291.2" stroke="#000" stroke-width="1.7"/>
<line x1="1530" y1="270.6" x2="1700.7" y2="270.2" stroke="#000" stroke-width="1.35"/>
<line x1="1750" y1="270.2" x2="1833" y2="270" stroke="#000" stroke-width="1.35"/>
<line x1="1833" y1="270" x2="1846" y2="270" stroke="#000" stroke-width="1.35"/>
<rect x="1618" y="154.3" width="30.5" height="31.7" fill="none" stroke="#000" stroke-width="1.7"/>
<text font-size="35.5" text-anchor="middle" font-weight="bold" stroke="#000" stroke-width="0.6" transform="translate(1633.3 182.4)">X</text>
<rect x="1654.7" y="185.6" width="27.3" height="38.6" fill="none" stroke="#000" stroke-width="1.7"/>
<circle cx="1669" cy="207.8" r="5" fill="none" stroke="#000" stroke-width="2.2"/>
<circle cx="1669" cy="207.8" r="1.8" fill="none" stroke="#000" stroke-width="1.2"/>
<line x1="1669.5" y1="205" x2="1674.5" y2="193.5" stroke="#000" stroke-width="3"/>
<path d="M1663,198 L1666.5,203 M1676,199 L1679,204 L1675,207 M1664,214 L1661.5,219 M1674,213 L1679.5,209 M1665.5,212.5 L1668,219 L1670,219 L1672.5,212.5" fill="none" stroke="#000" stroke-width="1.6"/>
<line x1="1668" y1="219" x2="1668" y2="259" stroke="#000" stroke-width="1.2"/>
<line x1="1670.2" y1="219" x2="1670.2" y2="259" stroke="#000" stroke-width="1.2"/>
<path d="M1665.5,260 L1669,256.5 L1672.5,260" fill="none" stroke="#000" stroke-width="1.4"/>
<line x1="1621.8" y1="209.7" x2="1654" y2="209.7" stroke="#000" stroke-width="3.4"/>
<line x1="1623.6" y1="250.8" x2="1662.8" y2="250.8" stroke="#000" stroke-width="3.4"/>
<path d="M1606.3,204.7 L1602.6,204.7 C1600.8,204.7 1600.6,206 1600.6,208 L1600.6,237.5 C1600.6,239.8 1601,240.8 1602.6,240.8 L1606.3,240.8" fill="none" stroke="#000" stroke-width="2.2"/>
<line x1="1612.4" y1="206" x2="1612.4" y2="248.3" stroke="#000" stroke-width="2.6"/>
<line x1="1605.5" y1="201" x2="1605.5" y2="204" stroke="#000" stroke-width="2.4"/>
<line x1="1684" y1="153" x2="1684.5" y2="286.8" stroke="#000" stroke-width="3.4"/>
<line x1="1690.2" y1="153" x2="1690.4" y2="280" stroke="#000" stroke-width="1.3"/>
<line x1="1693.4" y1="153" x2="1693.8" y2="286.8" stroke="#000" stroke-width="2"/>
<path d="M1684.5,286.8 L1694.9,286.8 M1687.2,262 L1686,285 M1691,262 L1692.4,285" fill="none" stroke="#000" stroke-width="1.3"/>
<line x1="1756.8" y1="153" x2="1757" y2="286.8" stroke="#000" stroke-width="2.4"/>
<line x1="1759.8" y1="170" x2="1760" y2="280" stroke="#000" stroke-width="1.35"/>
<line x1="1765" y1="153" x2="1765.6" y2="286.8" stroke="#000" stroke-width="4.4"/>
<path d="M1756.5,286.8 L1768,286.8 M1760.4,262 L1759,285 M1763.6,262 L1762.6,285" fill="none" stroke="#000" stroke-width="1.3"/>
<line x1="1725.4" y1="180.5" x2="1726" y2="358.8" stroke="#000" stroke-width="1.35" stroke-dasharray="60 4 8 4"/>
<circle cx="1703.3" cy="224.7" r="6.5" fill="none" stroke="#000" stroke-width="1.4"/>
<circle cx="1779.8" cy="223.7" r="6.5" fill="none" stroke="#000" stroke-width="1.4"/>
<path d="M1703.9,242.48 C1701.85,246.58 1698.57,249.86 1698.57,253.55 C1698.57,259.7 1709.23,259.7 1709.23,253.55 C1709.23,249.86 1705.95,246.58 1703.9,242.48 Z" fill="none" stroke="#000" stroke-width="2.6"/>
<line x1="1703.9" y1="243.3" x2="1703.9" y2="249.04" stroke="#000" stroke-width="2.6"/>
<path d="M1800.4,243.48 C1798.35,247.58 1795.07,250.86 1795.07,254.55 C1795.07,260.7 1805.73,260.7 1805.73,254.55 C1805.73,250.86 1802.45,247.58 1800.4,243.48 Z" fill="none" stroke="#000" stroke-width="2.6"/>
<line x1="1800.4" y1="244.3" x2="1800.4" y2="250.04" stroke="#000" stroke-width="2.6"/>
<path d="M1621,270 L1621,262.8 L1675.4,262.8 L1683,268 L1696,268 L1698.8,263.4 L1726,263.4 L1726,279.6" fill="none" stroke="#000" stroke-width="2.4"/>
<circle cx="1624.5" cy="262.8" r="1.8" fill="#fff" stroke="#000" stroke-width="1"/>
<circle cx="1714.5" cy="263.4" r="2" fill="#fff" stroke="#000" stroke-width="1"/>
<circle cx="1722" cy="270" r="1.8" fill="#fff" stroke="#000" stroke-width="1"/>
<path d="M1717,281.6 L1725.6,274.4 L1734.4,281.6" fill="none" stroke="#000" stroke-width="2.6"/>
<g transform="translate(0 274.5) scale(1 1) translate(0 -274.5)">
<path d="M1702.9,274.5 L1747.9,274.5 L1750,277 L1749,287.5 L1745.4,291.5 L1745.4,314 L1705.4,314 L1705.4,291.5 L1701.8,287.5 L1700.8,277 Z" fill="none" stroke="#000" stroke-width="1.7"/>
<polygon points="1717.9,282.8 1732.9,282.8 1741,289.5 1741,303.5 1732.9,310.9 1717.9,310.9 1709.8,303.5 1709.8,289.5" fill="none" stroke="#000" stroke-width="2.4"/>
<path d="M1716.4,288 L1726.4,288 C1729.9,289 1730.4,292.5 1730.4,296.5 L1730.4,304.5 L1721.4,304.5 L1718.4,307.5 L1713.9,307.5 C1712.9,300.5 1712.9,292.5 1716.4,288 Z" fill="none" stroke="#000" stroke-width="1.8"/>
<path d="M1726.4,290.5 L1729.9,294.5 L1729.9,301.5" fill="none" stroke="#000" stroke-width="2.4"/>
</g>
<line x1="1660.5" y1="292.6" x2="1705.5" y2="292.4" stroke="#000" stroke-width="1.7"/>
<line x1="1745.5" y1="292.3" x2="1790.8" y2="292.1" stroke="#000" stroke-width="1.7"/>
<line x1="1660.5" y1="309.6" x2="1705.5" y2="309.5" stroke="#000" stroke-width="1.7"/>
<line x1="1745.5" y1="309.4" x2="1790.8" y2="309.2" stroke="#000" stroke-width="1.7"/>
<line x1="1683" y1="296.8" x2="1707" y2="296.8" stroke="#000" stroke-width="1.35" stroke-dasharray="9 3"/>
<line x1="1744" y1="296.7" x2="1762" y2="296.7" stroke="#000" stroke-width="1.35" stroke-dasharray="9 3"/>
<line x1="1660.5" y1="322.4" x2="1791.5" y2="322" stroke="#000" stroke-width="1.8"/>
<line x1="1660.5" y1="337.4" x2="1791.5" y2="337" stroke="#000" stroke-width="1.7"/>
<line x1="1620.5" y1="330.8" x2="1652.5" y2="330.6" stroke="#000" stroke-width="1.35"/>
<line x1="1662.5" y1="330.5" x2="1846.5" y2="329.7" stroke="#000" stroke-width="1.35" stroke-dasharray="60 4 6 4"/>
<path d="M1682.5,337.3 C1695.5,341.2 1705.5,343.8 1718.5,343.8 L1733.5,343.6 C1746.5,343.6 1756.5,341.2 1769.5,337.1" fill="none" stroke="#000" stroke-width="1.7"/>
<path d="M1660.5,320.2 C1664,324.2 1664,340.2 1660.5,345.2" fill="none" stroke="#000" stroke-width="1.7"/>
<path d="M1791.5,320.2 C1788,324.2 1788,340.2 1791.5,345.2" fill="none" stroke="#000" stroke-width="1.7"/>
<line x1="1791.5" y1="293.3" x2="1791.9" y2="374.6" stroke="#000" stroke-width="1.7"/>
<line x1="1795.4" y1="293.3" x2="1795.8" y2="374.6" stroke="#000" stroke-width="1.1"/>
<line x1="1800.6" y1="293.3" x2="1801" y2="374.6" stroke="#000" stroke-width="1.7"/>
<line x1="1791.5" y1="293.3" x2="1800.6" y2="293.3" stroke="#000" stroke-width="1.7"/>
<path d="M1791,373 L1793.6,376.5 L1796,376.5 L1798,373" fill="none" stroke="#000" stroke-width="1.2"/>
<line x1="1647.5" y1="338" x2="1647.8" y2="374.8" stroke="#000" stroke-width="1.7"/>
<line x1="1656" y1="338" x2="1656.3" y2="374.8" stroke="#000" stroke-width="1.1"/>
<line x1="1660.5" y1="338" x2="1660.8" y2="374.8" stroke="#000" stroke-width="1.7"/>
<path d="M1654.5,373 L1656.6,376.6 L1659,376.6 L1661,373" fill="none" stroke="#000" stroke-width="1.2"/>
<line x1="1532" y1="372.3" x2="1648" y2="371.6" stroke="#000" stroke-width="1.7"/>
<line x1="1648" y1="371.6" x2="1910" y2="370.5" stroke="#000" stroke-width="1.7"/>
<line x1="1625.5" y1="271.9" x2="1625.8" y2="334" stroke="#000" stroke-width="1.7"/>
<line x1="1629.4" y1="271.9" x2="1629.6" y2="334" stroke="#000" stroke-width="1.7"/>
<line x1="1655.3" y1="271.9" x2="1655.6" y2="338" stroke="#000" stroke-width="1.7"/>
<line x1="1659.9" y1="271.9" x2="1660.2" y2="338" stroke="#000" stroke-width="1.7"/>
<path d="M1625.5,272.5 C1625.5,269.5 1629.4,269.5 1629.4,272.5 M1655.3,272.5 C1655.3,269.5 1659.9,269.5 1659.9,272.5" fill="none" stroke="#000" stroke-width="1.3"/>
<rect x="1619.6" y="334" width="42.8" height="3.4" fill="none" stroke="#000" stroke-width="1.7"/>
<line x1="1629.6" y1="293" x2="1655.3" y2="293" stroke="#000" stroke-width="1.7"/>
<line x1="1629.6" y1="296.5" x2="1655.3" y2="296.5" stroke="#000" stroke-width="1.35"/>
<line x1="1629.6" y1="303.5" x2="1655.3" y2="303.5" stroke="#000" stroke-width="1.7"/>
<line x1="1629.6" y1="306.5" x2="1655.3" y2="306.5" stroke="#000" stroke-width="1.35"/>
<line x1="1646.5" y1="293" x2="1646.5" y2="334" stroke="#000" stroke-width="1.7"/>
<line x1="1649" y1="293" x2="1649" y2="334" stroke="#000" stroke-width="1.35"/>
<path d="M1625,311 C1620,311 1618.5,315 1616.5,317.5 C1612.5,320 1613.5,324.5 1611.8,326.5 C1612.5,331 1614.5,334 1619.6,335.5" fill="none" stroke="#000" stroke-width="1.7"/>
<path d="M1633,334 L1637,309 C1638,306.5 1640,306.5 1641,309 L1644.5,334 M1639,312 L1638.6,334" fill="none" stroke="#000" stroke-width="1.3"/>
<path d="M1650,318 C1652.5,318 1653,322 1652,334" fill="none" stroke="#000" stroke-width="1.3"/>
<line x1="1606.7" y1="285.5" x2="1606.9" y2="322.4" stroke="#000" stroke-width="3"/>
<rect x="1608.6" y="341.3" width="7.8" height="7.7" fill="none" stroke="#000" stroke-width="1.7"/>
<polyline points="1616.4,345.8 1623.5,356.2 1637.8,356.2 1646.2,346.4" fill="none" stroke="#000" stroke-width="1.7"/>
<path d="M1619.6,337.4 C1618,341 1617,343.5 1616.4,345.8 M1626,337.4 L1629,345 L1636,345 L1640,337.4" fill="none" stroke="#000" stroke-width="1.2"/>
<path d="M1816.2,304.8 L1827.4,304.8 L1824.8,341 L1818.8,341 Z" fill="none" stroke="#000" stroke-width="1.7"/>
<path d="M1816.4,310 C1811.6,312 1809.6,318 1810.1,324 C1809.6,330 1810.1,336 1812.6,340.5 M1827.2,310 C1832.6,311 1833.6,316 1836.6,318.5 C1839.6,321 1839.1,327 1841.1,329.5 C1839.6,335 1834.6,337 1830.6,340.5" fill="none" stroke="#000" stroke-width="1.7"/>
<path d="M1800.6,314 L1805.6,318 L1805.6,340 L1802.6,341" fill="none" stroke="#000" stroke-width="1.7"/>
<line x1="1807.4" y1="322" x2="1807.4" y2="339" stroke="#000" stroke-width="2"/>
<polyline points="1800.6,341 1843.4,341 1843.4,347.5 1800.6,347.5" fill="none" stroke="#000" stroke-width="1.7"/>
<polyline points="1805.8,347.5 1814,357.8 1831,357.8 1838.8,347.5" fill="none" stroke="#000" stroke-width="1.7"/>
<line x1="1840.6" y1="330" x2="1847.6" y2="330" stroke="#000" stroke-width="1.35"/>
<text font-size="17.6" textLength="131.43" lengthAdjust="spacing" stroke="#000" stroke-width="0.4" transform="translate(1656 404.8) scale(1.05 1)">HY  TYPE  END</text>
<line x1="1655" y1="410.4" x2="1794" y2="409.8" stroke="#000" stroke-width="1.6"/>
<text font-size="12.7" textLength="44.29" lengthAdjust="spacing" stroke="#000" stroke-width="0.5" transform="translate(1447.5 241.5) scale(1.05 1)">FLOOR</text>
<text font-size="12.7" textLength="40.95" lengthAdjust="spacing" stroke="#000" stroke-width="0.5" transform="translate(1449 254.8) scale(1.05 1)">LEVEL</text>
<polyline points="1494,250 1503.5,250 1525,265.5" fill="none" stroke="#000" stroke-width="1.35"/>
<polygon points="1529.6,268.8 1519.6,264.73 1522.51,260.66" fill="#000"/>
<line x1="1530" y1="151.2" x2="1595" y2="151" stroke="#000" stroke-width="1.35"/>
<line x1="1857" y1="149.2" x2="1896" y2="149" stroke="#000" stroke-width="1.35"/>
<line x1="1540.2" y1="160" x2="1540.4" y2="196" stroke="#000" stroke-width="1.35"/>
<line x1="1540.6" y1="240" x2="1540.8" y2="262" stroke="#000" stroke-width="1.35"/>
<polygon points="1540.2,151.6 1542.7,162.1 1537.7,162.1" fill="#000"/>
<polygon points="1540.8,270 1538.3,259.5 1543.3,259.5" fill="#000"/>
<line x1="1541" y1="279" x2="1541.2" y2="290" stroke="#000" stroke-width="1.35"/>
<line x1="1541.6" y1="345" x2="1541.8" y2="363" stroke="#000" stroke-width="1.35"/>
<polygon points="1541,270.8 1543.5,281.3 1538.5,281.3" fill="#000"/>
<polygon points="1541.8,371.8 1539.3,361.3 1544.3,361.3" fill="#000"/>
<text font-size="12.5" textLength="41.9" lengthAdjust="spacing" font-style="italic" stroke="#000" stroke-width="0.3" transform="translate(1520 217.5) rotate(-80) scale(1.05 1)">(1378)</text>
<text font-size="14" textLength="31.43" lengthAdjust="spacing" stroke="#000" stroke-width="0.3" transform="translate(1545.5 240) rotate(-90) scale(1.05 1)">4′- 6</text>
<g transform="rotate(-90 1540.5 201)">
<text font-size="11" text-anchor="middle" stroke="#000" stroke-width="0.3" transform="translate(1540.5 199.4) scale(1.05 1)">1</text>
<line x1="1535.84" y1="201" x2="1545.16" y2="201" stroke="#000" stroke-width="1.3"/>
<text font-size="11" text-anchor="middle" stroke="#000" stroke-width="0.3" transform="translate(1540.5 210.52) scale(1.05 1)">4</text>
</g>
<text font-size="11" stroke="#000" stroke-width="0.5" transform="translate(1534.5 198) rotate(-90) scale(1.05 1)">″</text>
<text font-size="12.5" textLength="39.05" lengthAdjust="spacing" font-style="italic" stroke="#000" stroke-width="0.3" transform="translate(1526 339) rotate(-84) scale(1.05 1)">(1192)</text>
<text font-size="14" textLength="36.19" lengthAdjust="spacing" stroke="#000" stroke-width="0.3" transform="translate(1546.5 343) rotate(-90) scale(1.05 1)">3′-10</text>
<g transform="rotate(-90 1541.5 298)">
<text font-size="11" text-anchor="middle" stroke="#000" stroke-width="0.3" transform="translate(1541.5 296.4) scale(1.05 1)">15</text>
<line x1="1533.43" y1="298" x2="1549.57" y2="298" stroke="#000" stroke-width="1.3"/>
<text font-size="11" text-anchor="middle" stroke="#000" stroke-width="0.3" transform="translate(1541.5 307.52) scale(1.05 1)">16</text>
</g>
<text font-size="11" stroke="#000" stroke-width="0.5" transform="translate(1533 291) rotate(-90) scale(1.05 1)">″</text>
<text font-size="12.7" textLength="74.29" lengthAdjust="spacing" stroke="#000" stroke-width="0.5" transform="translate(1569.6 365) rotate(-90) scale(1.05 1)">TARE  HT.</text>
<line x1="1884.3" y1="158" x2="1884.5" y2="228" stroke="#000" stroke-width="1.35"/>
<line x1="1885" y1="283" x2="1885.2" y2="362" stroke="#000" stroke-width="1.35"/>
<polygon points="1884.3,149.4 1886.8,159.9 1881.8,159.9" fill="#000"/>
<polygon points="1885.2,370.6 1882.7,360.1 1887.7,360.1" fill="#000"/>
<text font-size="12.5" textLength="40.95" lengthAdjust="spacing" font-style="italic" stroke="#000" stroke-width="0.3" transform="translate(1862 268) rotate(-84) scale(1.05 1)">(2570)</text>
<text font-size="14" textLength="32.38" lengthAdjust="spacing" stroke="#000" stroke-width="0.3" transform="translate(1889 280) rotate(-90) scale(1.05 1)">8′- 5</text>
<g transform="rotate(-90 1884.8 241)">
<text font-size="11" text-anchor="middle" stroke="#000" stroke-width="0.3" transform="translate(1884.8 239.4) scale(1.05 1)">3</text>
<line x1="1876.73" y1="241" x2="1892.87" y2="241" stroke="#000" stroke-width="1.3"/>
<text font-size="11" text-anchor="middle" stroke="#000" stroke-width="0.3" transform="translate(1884.8 250.52) scale(1.05 1)">16</text>
</g>
<text font-size="11" stroke="#000" stroke-width="0.5" transform="translate(1877.5 235) rotate(-90) scale(1.05 1)">″</text>
<text font-size="12.7" textLength="38.1" lengthAdjust="spacing" stroke="#000" stroke-width="0.5" transform="translate(1908.8 321.6) rotate(-90) scale(1.05 1)">TARE</text>
<text font-size="12.7" textLength="59.05" lengthAdjust="spacing" stroke="#000" stroke-width="0.5" transform="translate(1908.8 258) rotate(-90) scale(1.05 1)">HEIGHT</text>
<path d="M1604.3,442.3 L1849.4,441.2 M1606,445.2 C1650,449.6 1700,449.2 1727,449.2 C1760,449.2 1810,448.6 1847.5,444.4" fill="none" stroke="#000" stroke-width="1.7"/>
<path d="M1604.3,442.3 C1602.5,443 1602.8,445 1606,445.2 M1849.4,441.2 C1851,442 1850.6,444 1847.5,444.4" fill="none" stroke="#000" stroke-width="1.4"/>
<line x1="1608" y1="447" x2="1609" y2="562" stroke="#000" stroke-width="1.7"/>
<line x1="1621" y1="447" x2="1621.5" y2="562" stroke="#000" stroke-width="1.7"/>
<line x1="1833.8" y1="447" x2="1834.2" y2="579" stroke="#000" stroke-width="1.7"/>
<line x1="1846.8" y1="446" x2="1846.8" y2="579" stroke="#000" stroke-width="1.7"/>
<line x1="1751.5" y1="579.2" x2="1846.8" y2="579" stroke="#000" stroke-width="1.7"/>
<line x1="1839.5" y1="491" x2="1839.7" y2="532.7" stroke="#000" stroke-width="3"/>
<line x1="1564" y1="562" x2="1626" y2="561.6" stroke="#000" stroke-width="1.35"/>
<line x1="1664" y1="561.4" x2="1704.2" y2="561.3" stroke="#000" stroke-width="1.7"/>
<line x1="1751.4" y1="561.3" x2="1833.8" y2="561.2" stroke="#000" stroke-width="1.7"/>
<line x1="1596" y1="561.8" x2="1664" y2="561.4" stroke="#000" stroke-width="1.7"/>
<line x1="1684.9" y1="447" x2="1685.2" y2="578.5" stroke="#000" stroke-width="2.2"/>
<line x1="1688" y1="447" x2="1688" y2="500" stroke="#000" stroke-width="1.35"/>
<line x1="1694" y1="447" x2="1694.3" y2="578.5" stroke="#000" stroke-width="2.6"/>
<line x1="1696.6" y1="447" x2="1696.6" y2="540" stroke="#000" stroke-width="1.35"/>
<path d="M1685,578.5 L1697.5,578.5 M1689,556 L1688,577 M1692,556 L1693.4,577" fill="none" stroke="#000" stroke-width="1.3"/>
<line x1="1758.8" y1="447" x2="1759" y2="578.5" stroke="#000" stroke-width="2.4"/>
<line x1="1761.2" y1="447" x2="1761.4" y2="560" stroke="#000" stroke-width="1.35"/>
<line x1="1768" y1="447" x2="1768.3" y2="578.5" stroke="#000" stroke-width="2.2"/>
<line x1="1770.5" y1="447" x2="1770.6" y2="578.5" stroke="#000" stroke-width="1.2"/>
<path d="M1758.5,578.5 L1771,578.5 M1762.6,556 L1761.8,577 M1766,556 L1767,577" fill="none" stroke="#000" stroke-width="1.3"/>
<line x1="1760.3" y1="520" x2="1760.3" y2="560" stroke="#000" stroke-width="2.4"/>
<line x1="1727.5" y1="484.7" x2="1728.5" y2="653.3" stroke="#000" stroke-width="1.35" stroke-dasharray="60 4 8 4"/>
<rect x="1659.5" y="500.7" width="25.2" height="29.3" fill="none" stroke="#000" stroke-width="1.7"/>
<rect x="1661.5" y="503.5" width="21" height="23" fill="none" stroke="#000" stroke-width="1"/>
<circle cx="1672" cy="518.3" r="4.6" fill="none" stroke="#000" stroke-width="2.2"/>
<circle cx="1672" cy="518.3" r="1.6" fill="none" stroke="#000" stroke-width="1"/>
<line x1="1672.4" y1="515.5" x2="1677.5" y2="505.5" stroke="#000" stroke-width="3"/>
<path d="M1666,509 L1669,514 M1678.5,511 L1682,515 L1678,518 M1667,524.5 L1664.5,528.5 M1677,523.5 L1682,520 M1669,523 L1670.8,530.5 L1673,530.5 L1675,523" fill="none" stroke="#000" stroke-width="1.6"/>
<line x1="1671" y1="530.5" x2="1671.3" y2="566" stroke="#000" stroke-width="1.2"/>
<line x1="1673.2" y1="530.5" x2="1673.4" y2="566" stroke="#000" stroke-width="1.2"/>
<ellipse cx="1672.2" cy="568.3" rx="2.6" ry="1.6" fill="none" stroke="#000" stroke-width="1.3"/>
<text font-size="12.7" textLength="87.62" lengthAdjust="spacing" stroke="#000" stroke-width="0.5" transform="translate(1829 432) scale(1.05 1)">HANDBRAKE</text>
<polyline points="1822,428 1808,428 1697,496.5" fill="none" stroke="#000" stroke-width="1.35"/>
<polygon points="1692.3,499.4 1699.88,491.72 1702.53,495.96" fill="#000"/>
<line x1="1603" y1="492" x2="1650" y2="492" stroke="#000" stroke-width="2"/>
<line x1="1603" y1="540.4" x2="1650" y2="540.4" stroke="#000" stroke-width="2"/>
<circle cx="1651.5" cy="492" r="1.7" fill="#fff" stroke="#000" stroke-width="1"/>
<circle cx="1651.5" cy="540.4" r="1.7" fill="#fff" stroke="#000" stroke-width="1"/>
<circle cx="1602.5" cy="492" r="1.4" fill="#000" stroke="#000" stroke-width="1"/>
<circle cx="1602.5" cy="540.4" r="1.4" fill="#000" stroke="#000" stroke-width="1"/>
<path d="M1608,499 L1604,499 C1602,499 1601.7,500.5 1601.7,502.5 L1601.7,528 C1601.7,530.5 1602,531.4 1604,531.4 L1608,531.4" fill="none" stroke="#000" stroke-width="2.2"/>
<path d="M1702,538.38 C1700.45,541.48 1697.97,543.96 1697.97,546.75 C1697.97,551.4 1706.03,551.4 1706.03,546.75 C1706.03,543.96 1703.55,541.48 1702,538.38 Z" fill="none" stroke="#000" stroke-width="2.6"/>
<line x1="1702" y1="539" x2="1702" y2="543.34" stroke="#000" stroke-width="2.6"/>
<path d="M1753.4,538.38 C1751.85,541.48 1749.37,543.96 1749.37,546.75 C1749.37,551.4 1757.43,551.4 1757.43,546.75 C1757.43,543.96 1754.95,541.48 1753.4,538.38 Z" fill="none" stroke="#000" stroke-width="2.6"/>
<line x1="1753.4" y1="539" x2="1753.4" y2="543.34" stroke="#000" stroke-width="2.6"/>
<path d="M1626,573.7 L1626,556.5 C1626,554 1627.5,553.5 1630,553.5 L1660,553.5 C1663,553.5 1663.8,554.5 1663.8,557 L1663.8,561" fill="none" stroke="#000" stroke-width="2.6"/>
<rect x="1629" y="551.2" width="8.5" height="4.6" fill="#fff" stroke="#000" stroke-width="1" rx="1.5"/>
<path d="M1697.5,556.9 L1707,553.5 L1727.8,553.5 L1727.8,566" fill="none" stroke="#000" stroke-width="2.4"/>
<rect x="1713" y="551.3" width="8.5" height="4.4" fill="#fff" stroke="#000" stroke-width="1" rx="1.5"/>
<circle cx="1724.5" cy="558" r="1.7" fill="#fff" stroke="#000" stroke-width="1"/>
<circle cx="1729.5" cy="557" r="1.7" fill="#fff" stroke="#000" stroke-width="1"/>
<path d="M1719.5,569.8 L1727.8,563 L1736,569.8" fill="none" stroke="#000" stroke-width="2.6"/>
<g transform="translate(0 562.8) scale(1 0.93) translate(0 -562.8)">
<path d="M1705.3,562.8 L1750.3,562.8 L1752.4,565.3 L1751.4,575.8 L1747.8,579.8 L1747.8,602.3 L1707.8,602.3 L1707.8,579.8 L1704.2,575.8 L1703.2,565.3 Z" fill="none" stroke="#000" stroke-width="1.7"/>
<polygon points="1720.3,571.1 1735.3,571.1 1743.4,577.8 1743.4,591.8 1735.3,599.2 1720.3,599.2 1712.2,591.8 1712.2,577.8" fill="none" stroke="#000" stroke-width="2.4"/>
<path d="M1718.8,576.3 L1728.8,576.3 C1732.3,577.3 1732.8,580.8 1732.8,584.8 L1732.8,592.8 L1723.8,592.8 L1720.8,595.8 L1716.3,595.8 C1715.3,588.8 1715.3,580.8 1718.8,576.3 Z" fill="none" stroke="#000" stroke-width="1.8"/>
<path d="M1728.8,578.8 L1732.3,582.8 L1732.3,589.8" fill="none" stroke="#000" stroke-width="2.4"/>
</g>
<path d="M1663.1,580.6 L1707.6,580.4 M1749.6,580.3 L1793.2,580.1 M1663.1,600.6 L1793.2,600" fill="none" stroke="#000" stroke-width="1.7"/>
<path d="M1663.1,599.3 L1703,599.2 C1706.5,599 1707.6,597.5 1707.6,595 M1793.2,598.8 L1754,598.9 C1751,598.8 1749.6,597.5 1749.6,595" fill="none" stroke="#000" stroke-width="1.2"/>
<line x1="1692.8" y1="585.2" x2="1709" y2="585.2" stroke="#000" stroke-width="1.35" stroke-dasharray="9 3"/>
<line x1="1748" y1="585.1" x2="1765.6" y2="585.1" stroke="#000" stroke-width="1.35" stroke-dasharray="9 3"/>
<line x1="1663.1" y1="611.8" x2="1793.2" y2="611.4" stroke="#000" stroke-width="1.8"/>
<line x1="1663.1" y1="626.8" x2="1793.2" y2="626.4" stroke="#000" stroke-width="1.7"/>
<line x1="1623.1" y1="620.2" x2="1655.1" y2="620" stroke="#000" stroke-width="1.35"/>
<line x1="1665.1" y1="619.9" x2="1848.2" y2="619.1" stroke="#000" stroke-width="1.35" stroke-dasharray="60 4 6 4"/>
<path d="M1685.1,626.7 C1698.1,630.6 1708.1,633.2 1721.1,633.2 L1735.2,633 C1748.2,633 1758.2,630.6 1771.2,626.5" fill="none" stroke="#000" stroke-width="1.7"/>
<path d="M1663.1,609.6 C1666.6,613.6 1666.6,629.6 1663.1,634.6" fill="none" stroke="#000" stroke-width="1.7"/>
<path d="M1793.2,609.6 C1789.7,613.6 1789.7,629.6 1793.2,634.6" fill="none" stroke="#000" stroke-width="1.7"/>
<path d="M1651.6,663.4 L1651.6,587 C1651.6,584 1653,583.2 1655,583.2 L1663.1,583.2 L1663.3,663.4" fill="none" stroke="#000" stroke-width="1.7"/>
<line x1="1660.4" y1="583.2" x2="1660.6" y2="663.4" stroke="#000" stroke-width="1.1"/>
<path d="M1658.6,661 L1660.4,665.6 L1662.6,665.6 L1664,661" fill="none" stroke="#000" stroke-width="1.2"/>
<path d="M1793.2,663 L1793.2,583.2 L1801,583.2 C1803.5,583.2 1804.7,584 1804.7,587 L1804.9,663" fill="none" stroke="#000" stroke-width="1.7"/>
<line x1="1796.6" y1="583.2" x2="1796.8" y2="663.2" stroke="#000" stroke-width="1.1"/>
<path d="M1792.4,660.5 L1794.4,665.2 L1796.8,665.2 L1798.2,660.5" fill="none" stroke="#000" stroke-width="1.2"/>
<line x1="1565" y1="661.2" x2="1652" y2="660.6" stroke="#000" stroke-width="1.7"/>
<line x1="1652" y1="660.6" x2="1912" y2="659.3" stroke="#000" stroke-width="1.7"/>
<line x1="1615.2" y1="563" x2="1615.6" y2="623" stroke="#000" stroke-width="1.7"/>
<line x1="1618.6" y1="563" x2="1619" y2="623" stroke="#000" stroke-width="1.7"/>
<line x1="1645.6" y1="563" x2="1646" y2="623" stroke="#000" stroke-width="1.7"/>
<line x1="1649.6" y1="563" x2="1650" y2="623" stroke="#000" stroke-width="1.7"/>
<line x1="1647.6" y1="563" x2="1648" y2="600" stroke="#000" stroke-width="2.6"/>
<line x1="1618.6" y1="576.4" x2="1645.6" y2="576.4" stroke="#000" stroke-width="1.7"/>
<line x1="1618.6" y1="579.8" x2="1645.6" y2="579.8" stroke="#000" stroke-width="1.35"/>
<line x1="1618.6" y1="592" x2="1645.6" y2="592" stroke="#000" stroke-width="1.7"/>
<line x1="1618.6" y1="594.6" x2="1645.6" y2="594.6" stroke="#000" stroke-width="1.35"/>
<rect x="1613.5" y="621.6" width="38" height="3.4" fill="none" stroke="#000" stroke-width="1.7"/>
<path d="M1619,612 C1621,604 1625,599 1630,596.5 M1645.6,612 C1644,604 1640,599 1636,596.5 M1627,621 L1630.5,597 M1640,621 L1636.5,597 M1632.5,597 L1633.5,621" fill="none" stroke="#000" stroke-width="1.3"/>
<line x1="1607.8" y1="573.7" x2="1608" y2="610" stroke="#000" stroke-width="3"/>
<rect x="1610.5" y="630.4" width="6.8" height="6" fill="none" stroke="#000" stroke-width="1.7"/>
<polyline points="1618,633 1626.7,644.5 1641.5,644.5 1650.3,634.4" fill="none" stroke="#000" stroke-width="1.7"/>
<path d="M1615,625 C1616,630 1619,634 1623,636 M1650,625 C1649,630 1646,634 1642,636 M1629,625 L1630,634 L1637,634 L1638,625" fill="none" stroke="#000" stroke-width="1.2"/>
<path d="M1820.3,594.2 L1831.5,594.2 L1828.9,630.4 L1822.9,630.4 Z" fill="none" stroke="#000" stroke-width="1.7"/>
<path d="M1820.5,599.4 C1815.7,601.4 1813.7,607.4 1814.2,613.4 C1813.7,619.4 1814.2,625.4 1816.7,629.9 M1831.3,599.4 C1836.7,600.4 1837.7,605.4 1840.7,607.9 C1843.7,610.4 1843.2,616.4 1845.2,618.9 C1843.7,624.4 1838.7,626.4 1834.7,629.9" fill="none" stroke="#000" stroke-width="1.7"/>
<path d="M1804.7,603.4 L1809.7,607.4 L1809.7,629.4 L1806.7,630.4" fill="none" stroke="#000" stroke-width="1.7"/>
<line x1="1811.5" y1="611.4" x2="1811.5" y2="628.4" stroke="#000" stroke-width="2"/>
<polyline points="1804.7,630.4 1847.5,630.4 1847.5,636.9 1804.7,636.9" fill="none" stroke="#000" stroke-width="1.7"/>
<polyline points="1809.9,636.9 1818.1,647.2 1835.1,647.2 1842.9,636.9" fill="none" stroke="#000" stroke-width="1.7"/>
<line x1="1844.7" y1="619.4" x2="1851.7" y2="619.4" stroke="#000" stroke-width="1.35"/>
<text font-size="17.6" textLength="135.24" lengthAdjust="spacing" stroke="#000" stroke-width="0.4" transform="translate(1664 691.5) scale(1.05 1)">ELF  TYPE  END</text>
<line x1="1663" y1="696" x2="1807" y2="695.4" stroke="#000" stroke-width="1.6"/>
<text font-size="12.7" textLength="43.81" lengthAdjust="spacing" stroke="#000" stroke-width="0.5" transform="translate(1479 529.7) scale(1.05 1)">FLOOR</text>
<text font-size="12.7" textLength="45.71" lengthAdjust="spacing" stroke="#000" stroke-width="0.5" transform="translate(1479 543) scale(1.05 1)">LEVEL</text>
<polyline points="1528,532.6 1537,532.6 1557,553.5" fill="none" stroke="#000" stroke-width="1.35"/>
<polygon points="1561.8,558.4 1552.75,552.52 1556.37,549.07" fill="#000"/>
<line x1="1565.7" y1="441.2" x2="1602" y2="441" stroke="#000" stroke-width="1.35"/>
<line x1="1858" y1="440.2" x2="1899" y2="440" stroke="#000" stroke-width="1.35"/>
<line x1="1573.3" y1="450" x2="1573.4" y2="470" stroke="#000" stroke-width="1.35"/>
<line x1="1573.6" y1="527" x2="1573.7" y2="553" stroke="#000" stroke-width="1.35"/>
<polygon points="1573.3,441.6 1575.8,452.1 1570.8,452.1" fill="#000"/>
<polygon points="1573.7,561.6 1571.2,551.1 1576.2,551.1" fill="#000"/>
<line x1="1573.8" y1="571" x2="1573.9" y2="578" stroke="#000" stroke-width="1.35"/>
<line x1="1574.2" y1="632" x2="1574.4" y2="652" stroke="#000" stroke-width="1.35"/>
<polygon points="1573.8,562.4 1576.3,572.9 1571.3,572.9" fill="#000"/>
<polygon points="1574.4,660.6 1571.9,650.1 1576.9,650.1" fill="#000"/>
<text font-size="12.5" textLength="44.76" lengthAdjust="spacing" font-style="italic" stroke="#000" stroke-width="0.3" transform="translate(1553 506.6) rotate(-82) scale(1.05 1)">(1378)</text>
<text font-size="14" textLength="33.33" lengthAdjust="spacing" stroke="#000" stroke-width="0.3" transform="translate(1578.5 524.8) rotate(-90) scale(1.05 1)">4′- 6</text>
<g transform="rotate(-90 1573.5 482)">
<text font-size="11" text-anchor="middle" stroke="#000" stroke-width="0.3" transform="translate(1573.5 480.4) scale(1.05 1)">1</text>
<line x1="1568.84" y1="482" x2="1578.16" y2="482" stroke="#000" stroke-width="1.3"/>
<text font-size="11" text-anchor="middle" stroke="#000" stroke-width="0.3" transform="translate(1573.5 491.52) scale(1.05 1)">4</text>
</g>
<text font-size="11" stroke="#000" stroke-width="0.5" transform="translate(1567 479) rotate(-90) scale(1.05 1)">″</text>
<text font-size="12.5" textLength="38.1" lengthAdjust="spacing" font-style="italic" stroke="#000" stroke-width="0.3" transform="translate(1557 622) rotate(-84) scale(1.05 1)">(1192)</text>
<text font-size="14" textLength="34.29" lengthAdjust="spacing" stroke="#000" stroke-width="0.3" transform="translate(1578.5 629.8) rotate(-90) scale(1.05 1)">3′-10</text>
<g transform="rotate(-90 1573.6 586)">
<text font-size="11" text-anchor="middle" stroke="#000" stroke-width="0.3" transform="translate(1573.6 584.4) scale(1.05 1)">15</text>
<line x1="1565.53" y1="586" x2="1581.67" y2="586" stroke="#000" stroke-width="1.3"/>
<text font-size="11" text-anchor="middle" stroke="#000" stroke-width="0.3" transform="translate(1573.6 595.52) scale(1.05 1)">16</text>
</g>
<text font-size="11" stroke="#000" stroke-width="0.5" transform="translate(1565 578.5) rotate(-90) scale(1.05 1)">″</text>
<text font-size="12.7" textLength="70.48" lengthAdjust="spacing" stroke="#000" stroke-width="0.5" transform="translate(1598.6 657) rotate(-90) scale(1.05 1)">TARE  HT.</text>
<line x1="1885.5" y1="449" x2="1885.6" y2="516" stroke="#000" stroke-width="1.35"/>
<line x1="1885.8" y1="571" x2="1885.9" y2="651" stroke="#000" stroke-width="1.35"/>
<polygon points="1885.5,440.6 1888,451.1 1883,451.1" fill="#000"/>
<polygon points="1885.9,659.4 1883.4,648.9 1888.4,648.9" fill="#000"/>
<text font-size="12.5" textLength="43.81" lengthAdjust="spacing" font-style="italic" stroke="#000" stroke-width="0.3" transform="translate(1866 563.5) rotate(-86) scale(1.05 1)">(2570)</text>
<text font-size="14" textLength="31.43" lengthAdjust="spacing" stroke="#000" stroke-width="0.3" transform="translate(1889.6 567.7) rotate(-90) scale(1.05 1)">8′- 5</text>
<g transform="rotate(-90 1885 529)">
<text font-size="11" text-anchor="middle" stroke="#000" stroke-width="0.3" transform="translate(1885 527.4) scale(1.05 1)">3</text>
<line x1="1876.93" y1="529" x2="1893.07" y2="529" stroke="#000" stroke-width="1.3"/>
<text font-size="11" text-anchor="middle" stroke="#000" stroke-width="0.3" transform="translate(1885 538.52) scale(1.05 1)">16</text>
</g>
<text font-size="11" stroke="#000" stroke-width="0.5" transform="translate(1877.5 523) rotate(-90) scale(1.05 1)">″</text>
<text font-size="12.7" textLength="39.52" lengthAdjust="spacing" stroke="#000" stroke-width="0.5" transform="translate(1911.6 615.7) rotate(-90) scale(1.05 1)">TARE</text>
<text font-size="12.7" textLength="55.24" lengthAdjust="spacing" stroke="#000" stroke-width="0.5" transform="translate(1911.6 550.8) rotate(-90) scale(1.05 1)">HEIGHT</text>
</svg>
</body></html>
